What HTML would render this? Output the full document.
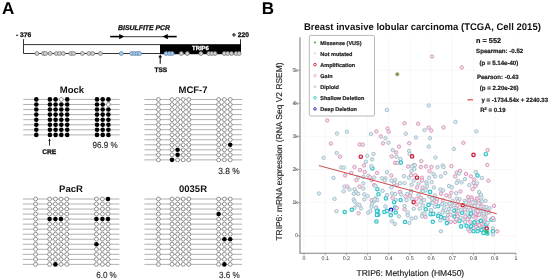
<!DOCTYPE html><html><head><meta charset="utf-8"><style>html,body{margin:0;padding:0;background:#fff;width:550px;height:280px;overflow:hidden}svg{display:block;will-change:transform}text{font-family:"Liberation Sans",sans-serif;text-rendering:geometricPrecision}</style></head><body>
<svg width="550" height="280" viewBox="0 0 550 280">
<rect x="0" y="0" width="550" height="280" fill="#fff"/>
<text x="2.0" y="13.7" font-size="17" font-weight="bold" fill="#000">A</text>
<text x="118" y="29.8" font-size="6.9" font-weight="bold" font-style="italic" fill="#111" stroke="#111" stroke-width="0.28">BISULFITE PCR</text>
<line x1="124" y1="36.6" x2="163.5" y2="36.6" stroke="#666" stroke-width="1.1"/>
<line x1="110.2" y1="36.6" x2="120.5" y2="36.6" stroke="#000" stroke-width="1.6"/>
<path d="M119.2 34.0 L124.5 36.6 L119.2 39.2 Z" fill="#000"/>
<line x1="166.5" y1="36.6" x2="176.7" y2="36.6" stroke="#000" stroke-width="1.6"/>
<path d="M167.8 34.0 L162.5 36.6 L167.8 39.2 Z" fill="#000"/>
<text x="16" y="36.8" font-size="6.7" font-weight="bold" fill="#111" stroke="#111" stroke-width="0.28">- 376</text>
<text x="232" y="36.9" font-size="6.7" font-weight="bold" fill="#111" stroke="#111" stroke-width="0.28">+ 220</text>
<path d="M23.5 39.2 V53.5 H160" fill="none" stroke="#333" stroke-width="1"/>
<line x1="23.5" y1="44.6" x2="160" y2="44.6" stroke="#333" stroke-width="1"/>
<line x1="240.5" y1="39.2" x2="240.5" y2="45" stroke="#333" stroke-width="1"/>
<rect x="160" y="44.2" width="81" height="10" fill="#000"/>
<text x="192.1" y="50.3" font-size="5.9" font-weight="bold" fill="#fff" stroke="#fff" stroke-width="0.28">TRIP6</text>
<circle cx="36.9" cy="53.5" r="2.0" fill="#cfcfcf" stroke="#707070" stroke-width="0.7"/>
<circle cx="43.5" cy="53.5" r="2.0" fill="#cfcfcf" stroke="#707070" stroke-width="0.7"/>
<circle cx="45.5" cy="53.5" r="2.0" fill="#cfcfcf" stroke="#707070" stroke-width="0.7"/>
<circle cx="50.2" cy="53.5" r="2.0" fill="#cfcfcf" stroke="#707070" stroke-width="0.7"/>
<circle cx="56.3" cy="53.5" r="2.0" fill="#cfcfcf" stroke="#707070" stroke-width="0.7"/>
<circle cx="59.5" cy="53.5" r="2.0" fill="#cfcfcf" stroke="#707070" stroke-width="0.7"/>
<circle cx="63.3" cy="53.5" r="2.0" fill="#cfcfcf" stroke="#707070" stroke-width="0.7"/>
<circle cx="70.9" cy="53.5" r="2.0" fill="#cfcfcf" stroke="#707070" stroke-width="0.7"/>
<circle cx="73.6" cy="53.5" r="2.0" fill="#cfcfcf" stroke="#707070" stroke-width="0.7"/>
<circle cx="82.4" cy="53.5" r="2.0" fill="#cfcfcf" stroke="#707070" stroke-width="0.7"/>
<circle cx="88.9" cy="53.5" r="2.0" fill="#cfcfcf" stroke="#707070" stroke-width="0.7"/>
<circle cx="92.7" cy="53.5" r="2.0" fill="#cfcfcf" stroke="#707070" stroke-width="0.7"/>
<circle cx="100.4" cy="53.5" r="2.0" fill="#cfcfcf" stroke="#707070" stroke-width="0.7"/>
<circle cx="181.3" cy="53.5" r="2.0" fill="#cfcfcf" stroke="#707070" stroke-width="0.7"/>
<circle cx="187.3" cy="53.5" r="2.0" fill="#cfcfcf" stroke="#707070" stroke-width="0.7"/>
<circle cx="200.9" cy="53.5" r="2.0" fill="#cfcfcf" stroke="#707070" stroke-width="0.7"/>
<circle cx="208.9" cy="53.5" r="2.0" fill="#cfcfcf" stroke="#707070" stroke-width="0.7"/>
<circle cx="211.9" cy="53.5" r="2.0" fill="#cfcfcf" stroke="#707070" stroke-width="0.7"/>
<circle cx="215.0" cy="53.5" r="2.0" fill="#cfcfcf" stroke="#707070" stroke-width="0.7"/>
<circle cx="224.3" cy="53.5" r="2.0" fill="#cfcfcf" stroke="#707070" stroke-width="0.7"/>
<circle cx="227.6" cy="53.5" r="2.0" fill="#cfcfcf" stroke="#707070" stroke-width="0.7"/>
<circle cx="231.4" cy="53.5" r="2.0" fill="#cfcfcf" stroke="#707070" stroke-width="0.7"/>
<circle cx="236.1" cy="53.5" r="2.0" fill="#cfcfcf" stroke="#707070" stroke-width="0.7"/>
<circle cx="239.1" cy="53.5" r="2.0" fill="#cfcfcf" stroke="#707070" stroke-width="0.7"/>
<circle cx="121.3" cy="53.5" r="2.0" fill="#a9cbea" stroke="#5580a8" stroke-width="0.7"/>
<circle cx="131.8" cy="53.5" r="2.0" fill="#a9cbea" stroke="#5580a8" stroke-width="0.7"/>
<circle cx="134.5" cy="53.5" r="2.0" fill="#a9cbea" stroke="#5580a8" stroke-width="0.7"/>
<circle cx="137.3" cy="53.5" r="2.0" fill="#a9cbea" stroke="#5580a8" stroke-width="0.7"/>
<circle cx="139.5" cy="53.5" r="2.0" fill="#a9cbea" stroke="#5580a8" stroke-width="0.7"/>
<circle cx="166.1" cy="53.5" r="2.0" fill="#a9cbea" stroke="#5580a8" stroke-width="0.7"/>
<circle cx="169.4" cy="53.5" r="2.0" fill="#a9cbea" stroke="#5580a8" stroke-width="0.7"/>
<circle cx="172.1" cy="53.5" r="2.0" fill="#a9cbea" stroke="#5580a8" stroke-width="0.7"/>
<line x1="160.2" y1="57" x2="160.2" y2="63.8" stroke="#000" stroke-width="1"/>
<path d="M158.3 57.6 L160.2 54.6 L162.1 57.6 Z" fill="#000"/>
<text x="154.4" y="71.6" font-size="6.6" font-weight="bold" fill="#111" stroke="#111" stroke-width="0.28">TSS</text>
<text x="72" y="92.8" font-size="9.5" font-weight="bold" fill="#111" text-anchor="middle">Mock</text>
<line x1="23.3" y1="99.40" x2="119.7" y2="99.40" stroke="#a8a8a8" stroke-width="0.9"/>
<line x1="23.3" y1="104.47" x2="119.7" y2="104.47" stroke="#a8a8a8" stroke-width="0.9"/>
<line x1="23.3" y1="109.54" x2="119.7" y2="109.54" stroke="#a8a8a8" stroke-width="0.9"/>
<line x1="23.3" y1="114.61" x2="119.7" y2="114.61" stroke="#a8a8a8" stroke-width="0.9"/>
<line x1="23.3" y1="119.68" x2="119.7" y2="119.68" stroke="#a8a8a8" stroke-width="0.9"/>
<line x1="23.3" y1="124.75" x2="119.7" y2="124.75" stroke="#a8a8a8" stroke-width="0.9"/>
<line x1="23.3" y1="129.82" x2="119.7" y2="129.82" stroke="#a8a8a8" stroke-width="0.9"/>
<line x1="23.3" y1="134.89" x2="119.7" y2="134.89" stroke="#a8a8a8" stroke-width="0.9"/>
<circle cx="36.3" cy="99.40" r="2.3" fill="#000"/>
<circle cx="49.9" cy="99.40" r="2.3" fill="#000"/>
<circle cx="55.6" cy="99.40" r="2.3" fill="#000"/>
<circle cx="61.3" cy="99.40" r="1.95" fill="#fff" stroke="#666" stroke-width="0.7"/>
<circle cx="67.2" cy="99.40" r="2.3" fill="#000"/>
<circle cx="97.0" cy="99.40" r="2.3" fill="#000"/>
<circle cx="102.7" cy="99.40" r="2.3" fill="#000"/>
<circle cx="108.4" cy="99.40" r="2.3" fill="#000"/>
<circle cx="36.3" cy="104.47" r="2.3" fill="#000"/>
<circle cx="49.9" cy="104.47" r="2.3" fill="#000"/>
<circle cx="55.6" cy="104.47" r="2.3" fill="#000"/>
<circle cx="61.3" cy="104.47" r="2.3" fill="#000"/>
<circle cx="67.2" cy="104.47" r="2.3" fill="#000"/>
<circle cx="97.0" cy="104.47" r="2.3" fill="#000"/>
<circle cx="102.7" cy="104.47" r="2.3" fill="#000"/>
<circle cx="108.4" cy="104.47" r="1.95" fill="#fff" stroke="#666" stroke-width="0.7"/>
<circle cx="36.3" cy="109.54" r="2.3" fill="#000"/>
<circle cx="49.9" cy="109.54" r="2.3" fill="#000"/>
<circle cx="55.6" cy="109.54" r="2.3" fill="#000"/>
<circle cx="61.3" cy="109.54" r="2.3" fill="#000"/>
<circle cx="67.2" cy="109.54" r="2.3" fill="#000"/>
<circle cx="97.0" cy="109.54" r="2.3" fill="#000"/>
<circle cx="102.7" cy="109.54" r="2.3" fill="#000"/>
<circle cx="108.4" cy="109.54" r="2.3" fill="#000"/>
<circle cx="36.3" cy="114.61" r="2.3" fill="#000"/>
<circle cx="49.9" cy="114.61" r="2.3" fill="#000"/>
<circle cx="55.6" cy="114.61" r="2.3" fill="#000"/>
<circle cx="61.3" cy="114.61" r="2.3" fill="#000"/>
<circle cx="67.2" cy="114.61" r="2.3" fill="#000"/>
<circle cx="97.0" cy="114.61" r="2.3" fill="#000"/>
<circle cx="102.7" cy="114.61" r="2.3" fill="#000"/>
<circle cx="108.4" cy="114.61" r="2.3" fill="#000"/>
<circle cx="36.3" cy="119.68" r="2.3" fill="#000"/>
<circle cx="49.9" cy="119.68" r="2.3" fill="#000"/>
<circle cx="55.6" cy="119.68" r="2.3" fill="#000"/>
<circle cx="61.3" cy="119.68" r="2.3" fill="#000"/>
<circle cx="67.2" cy="119.68" r="2.3" fill="#000"/>
<circle cx="97.0" cy="119.68" r="2.3" fill="#000"/>
<circle cx="102.7" cy="119.68" r="2.3" fill="#000"/>
<circle cx="108.4" cy="119.68" r="2.3" fill="#000"/>
<circle cx="36.3" cy="124.75" r="2.3" fill="#000"/>
<circle cx="49.9" cy="124.75" r="2.3" fill="#000"/>
<circle cx="55.6" cy="124.75" r="2.3" fill="#000"/>
<circle cx="61.3" cy="124.75" r="2.3" fill="#000"/>
<circle cx="67.2" cy="124.75" r="2.3" fill="#000"/>
<circle cx="97.0" cy="124.75" r="2.3" fill="#000"/>
<circle cx="102.7" cy="124.75" r="2.3" fill="#000"/>
<circle cx="108.4" cy="124.75" r="2.3" fill="#000"/>
<circle cx="36.3" cy="129.82" r="2.3" fill="#000"/>
<circle cx="49.9" cy="129.82" r="2.3" fill="#000"/>
<circle cx="55.6" cy="129.82" r="2.3" fill="#000"/>
<circle cx="61.3" cy="129.82" r="2.3" fill="#000"/>
<circle cx="67.2" cy="129.82" r="2.3" fill="#000"/>
<circle cx="97.0" cy="129.82" r="2.3" fill="#000"/>
<circle cx="102.7" cy="129.82" r="2.3" fill="#000"/>
<circle cx="108.4" cy="129.82" r="2.3" fill="#000"/>
<circle cx="36.3" cy="134.89" r="2.3" fill="#000"/>
<circle cx="49.9" cy="134.89" r="2.3" fill="#000"/>
<circle cx="55.6" cy="134.89" r="2.3" fill="#000"/>
<circle cx="61.3" cy="134.89" r="2.3" fill="#000"/>
<circle cx="67.2" cy="134.89" r="2.3" fill="#000"/>
<circle cx="97.0" cy="134.89" r="2.3" fill="#000"/>
<circle cx="102.7" cy="134.89" r="2.3" fill="#000"/>
<circle cx="108.4" cy="134.89" r="2.3" fill="#000"/>
<text x="193" y="92.5" font-size="9.5" font-weight="bold" fill="#111" text-anchor="middle">MCF-7</text>
<line x1="144.4" y1="99.50" x2="242" y2="99.50" stroke="#a8a8a8" stroke-width="0.9"/>
<line x1="144.4" y1="104.53" x2="242" y2="104.53" stroke="#a8a8a8" stroke-width="0.9"/>
<line x1="144.4" y1="109.56" x2="242" y2="109.56" stroke="#a8a8a8" stroke-width="0.9"/>
<line x1="144.4" y1="114.59" x2="242" y2="114.59" stroke="#a8a8a8" stroke-width="0.9"/>
<line x1="144.4" y1="119.62" x2="242" y2="119.62" stroke="#a8a8a8" stroke-width="0.9"/>
<line x1="144.4" y1="124.65" x2="242" y2="124.65" stroke="#a8a8a8" stroke-width="0.9"/>
<line x1="144.4" y1="129.68" x2="242" y2="129.68" stroke="#a8a8a8" stroke-width="0.9"/>
<line x1="144.4" y1="134.71" x2="242" y2="134.71" stroke="#a8a8a8" stroke-width="0.9"/>
<line x1="144.4" y1="139.74" x2="242" y2="139.74" stroke="#a8a8a8" stroke-width="0.9"/>
<line x1="144.4" y1="144.77" x2="242" y2="144.77" stroke="#a8a8a8" stroke-width="0.9"/>
<line x1="144.4" y1="149.80" x2="242" y2="149.80" stroke="#a8a8a8" stroke-width="0.9"/>
<line x1="144.4" y1="154.83" x2="242" y2="154.83" stroke="#a8a8a8" stroke-width="0.9"/>
<line x1="144.4" y1="159.86" x2="242" y2="159.86" stroke="#a8a8a8" stroke-width="0.9"/>
<circle cx="158.4" cy="99.50" r="1.95" fill="#fff" stroke="#666" stroke-width="0.7"/>
<circle cx="172.0" cy="99.50" r="1.95" fill="#fff" stroke="#666" stroke-width="0.7"/>
<circle cx="177.6" cy="99.50" r="1.95" fill="#fff" stroke="#666" stroke-width="0.7"/>
<circle cx="183.2" cy="99.50" r="1.95" fill="#fff" stroke="#666" stroke-width="0.7"/>
<circle cx="188.8" cy="99.50" r="1.95" fill="#fff" stroke="#666" stroke-width="0.7"/>
<circle cx="218.6" cy="99.50" r="1.95" fill="#fff" stroke="#666" stroke-width="0.7"/>
<circle cx="224.4" cy="99.50" r="1.95" fill="#fff" stroke="#666" stroke-width="0.7"/>
<circle cx="230.2" cy="99.50" r="1.95" fill="#fff" stroke="#666" stroke-width="0.7"/>
<circle cx="158.4" cy="104.53" r="1.95" fill="#fff" stroke="#666" stroke-width="0.7"/>
<circle cx="172.0" cy="104.53" r="1.95" fill="#fff" stroke="#666" stroke-width="0.7"/>
<circle cx="177.6" cy="104.53" r="1.95" fill="#fff" stroke="#666" stroke-width="0.7"/>
<circle cx="183.2" cy="104.53" r="1.95" fill="#fff" stroke="#666" stroke-width="0.7"/>
<circle cx="188.8" cy="104.53" r="1.95" fill="#fff" stroke="#666" stroke-width="0.7"/>
<circle cx="218.6" cy="104.53" r="1.95" fill="#fff" stroke="#666" stroke-width="0.7"/>
<circle cx="224.4" cy="104.53" r="1.95" fill="#fff" stroke="#666" stroke-width="0.7"/>
<circle cx="230.2" cy="104.53" r="1.95" fill="#fff" stroke="#666" stroke-width="0.7"/>
<circle cx="158.4" cy="109.56" r="1.95" fill="#fff" stroke="#666" stroke-width="0.7"/>
<circle cx="172.0" cy="109.56" r="1.95" fill="#fff" stroke="#666" stroke-width="0.7"/>
<circle cx="177.6" cy="109.56" r="1.95" fill="#fff" stroke="#666" stroke-width="0.7"/>
<circle cx="183.2" cy="109.56" r="1.95" fill="#fff" stroke="#666" stroke-width="0.7"/>
<circle cx="188.8" cy="109.56" r="1.95" fill="#fff" stroke="#666" stroke-width="0.7"/>
<circle cx="218.6" cy="109.56" r="1.95" fill="#fff" stroke="#666" stroke-width="0.7"/>
<circle cx="224.4" cy="109.56" r="1.95" fill="#fff" stroke="#666" stroke-width="0.7"/>
<circle cx="230.2" cy="109.56" r="1.95" fill="#fff" stroke="#666" stroke-width="0.7"/>
<circle cx="158.4" cy="114.59" r="1.95" fill="#fff" stroke="#666" stroke-width="0.7"/>
<circle cx="172.0" cy="114.59" r="1.95" fill="#fff" stroke="#666" stroke-width="0.7"/>
<circle cx="177.6" cy="114.59" r="1.95" fill="#fff" stroke="#666" stroke-width="0.7"/>
<circle cx="183.2" cy="114.59" r="1.95" fill="#fff" stroke="#666" stroke-width="0.7"/>
<circle cx="188.8" cy="114.59" r="1.95" fill="#fff" stroke="#666" stroke-width="0.7"/>
<circle cx="218.6" cy="114.59" r="1.95" fill="#fff" stroke="#666" stroke-width="0.7"/>
<circle cx="224.4" cy="114.59" r="1.95" fill="#fff" stroke="#666" stroke-width="0.7"/>
<circle cx="230.2" cy="114.59" r="1.95" fill="#fff" stroke="#666" stroke-width="0.7"/>
<circle cx="158.4" cy="119.62" r="1.95" fill="#fff" stroke="#666" stroke-width="0.7"/>
<circle cx="172.0" cy="119.62" r="1.95" fill="#fff" stroke="#666" stroke-width="0.7"/>
<circle cx="177.6" cy="119.62" r="1.95" fill="#fff" stroke="#666" stroke-width="0.7"/>
<circle cx="183.2" cy="119.62" r="1.95" fill="#fff" stroke="#666" stroke-width="0.7"/>
<circle cx="188.8" cy="119.62" r="1.95" fill="#fff" stroke="#666" stroke-width="0.7"/>
<circle cx="218.6" cy="119.62" r="1.95" fill="#fff" stroke="#666" stroke-width="0.7"/>
<circle cx="224.4" cy="119.62" r="1.95" fill="#fff" stroke="#666" stroke-width="0.7"/>
<circle cx="230.2" cy="119.62" r="1.95" fill="#fff" stroke="#666" stroke-width="0.7"/>
<circle cx="158.4" cy="124.65" r="1.95" fill="#fff" stroke="#666" stroke-width="0.7"/>
<circle cx="172.0" cy="124.65" r="1.95" fill="#fff" stroke="#666" stroke-width="0.7"/>
<circle cx="177.6" cy="124.65" r="1.95" fill="#fff" stroke="#666" stroke-width="0.7"/>
<circle cx="183.2" cy="124.65" r="1.95" fill="#fff" stroke="#666" stroke-width="0.7"/>
<circle cx="188.8" cy="124.65" r="1.95" fill="#fff" stroke="#666" stroke-width="0.7"/>
<circle cx="218.6" cy="124.65" r="1.95" fill="#fff" stroke="#666" stroke-width="0.7"/>
<circle cx="224.4" cy="124.65" r="1.95" fill="#fff" stroke="#666" stroke-width="0.7"/>
<circle cx="230.2" cy="124.65" r="1.95" fill="#fff" stroke="#666" stroke-width="0.7"/>
<circle cx="158.4" cy="129.68" r="1.95" fill="#fff" stroke="#666" stroke-width="0.7"/>
<circle cx="172.0" cy="129.68" r="1.95" fill="#fff" stroke="#666" stroke-width="0.7"/>
<circle cx="177.6" cy="129.68" r="1.95" fill="#fff" stroke="#666" stroke-width="0.7"/>
<circle cx="183.2" cy="129.68" r="1.95" fill="#fff" stroke="#666" stroke-width="0.7"/>
<circle cx="188.8" cy="129.68" r="1.95" fill="#fff" stroke="#666" stroke-width="0.7"/>
<circle cx="218.6" cy="129.68" r="1.95" fill="#fff" stroke="#666" stroke-width="0.7"/>
<circle cx="224.4" cy="129.68" r="1.95" fill="#fff" stroke="#666" stroke-width="0.7"/>
<circle cx="230.2" cy="129.68" r="1.95" fill="#fff" stroke="#666" stroke-width="0.7"/>
<circle cx="158.4" cy="134.71" r="1.95" fill="#fff" stroke="#666" stroke-width="0.7"/>
<circle cx="172.0" cy="134.71" r="1.95" fill="#fff" stroke="#666" stroke-width="0.7"/>
<circle cx="177.6" cy="134.71" r="1.95" fill="#fff" stroke="#666" stroke-width="0.7"/>
<circle cx="183.2" cy="134.71" r="1.95" fill="#fff" stroke="#666" stroke-width="0.7"/>
<circle cx="188.8" cy="134.71" r="1.95" fill="#fff" stroke="#666" stroke-width="0.7"/>
<circle cx="218.6" cy="134.71" r="1.95" fill="#fff" stroke="#666" stroke-width="0.7"/>
<circle cx="224.4" cy="134.71" r="1.95" fill="#fff" stroke="#666" stroke-width="0.7"/>
<circle cx="230.2" cy="134.71" r="1.95" fill="#fff" stroke="#666" stroke-width="0.7"/>
<circle cx="158.4" cy="139.74" r="1.95" fill="#fff" stroke="#666" stroke-width="0.7"/>
<circle cx="172.0" cy="139.74" r="1.95" fill="#fff" stroke="#666" stroke-width="0.7"/>
<circle cx="177.6" cy="139.74" r="1.95" fill="#fff" stroke="#666" stroke-width="0.7"/>
<circle cx="183.2" cy="139.74" r="1.95" fill="#fff" stroke="#666" stroke-width="0.7"/>
<circle cx="188.8" cy="139.74" r="1.95" fill="#fff" stroke="#666" stroke-width="0.7"/>
<circle cx="218.6" cy="139.74" r="1.95" fill="#fff" stroke="#666" stroke-width="0.7"/>
<circle cx="224.4" cy="139.74" r="1.95" fill="#fff" stroke="#666" stroke-width="0.7"/>
<circle cx="230.2" cy="139.74" r="1.95" fill="#fff" stroke="#666" stroke-width="0.7"/>
<circle cx="158.4" cy="144.77" r="1.95" fill="#fff" stroke="#666" stroke-width="0.7"/>
<circle cx="172.0" cy="144.77" r="1.95" fill="#fff" stroke="#666" stroke-width="0.7"/>
<circle cx="177.6" cy="144.77" r="1.95" fill="#fff" stroke="#666" stroke-width="0.7"/>
<circle cx="183.2" cy="144.77" r="1.95" fill="#fff" stroke="#666" stroke-width="0.7"/>
<circle cx="188.8" cy="144.77" r="1.95" fill="#fff" stroke="#666" stroke-width="0.7"/>
<circle cx="218.6" cy="144.77" r="1.95" fill="#fff" stroke="#666" stroke-width="0.7"/>
<circle cx="224.4" cy="144.77" r="1.95" fill="#fff" stroke="#666" stroke-width="0.7"/>
<circle cx="230.2" cy="144.77" r="2.3" fill="#000"/>
<circle cx="158.4" cy="149.80" r="1.95" fill="#fff" stroke="#666" stroke-width="0.7"/>
<circle cx="172.0" cy="149.80" r="1.95" fill="#fff" stroke="#666" stroke-width="0.7"/>
<circle cx="177.6" cy="149.80" r="2.3" fill="#000"/>
<circle cx="183.2" cy="149.80" r="1.95" fill="#fff" stroke="#666" stroke-width="0.7"/>
<circle cx="188.8" cy="149.80" r="1.95" fill="#fff" stroke="#666" stroke-width="0.7"/>
<circle cx="218.6" cy="149.80" r="1.95" fill="#fff" stroke="#666" stroke-width="0.7"/>
<circle cx="224.4" cy="149.80" r="1.95" fill="#fff" stroke="#666" stroke-width="0.7"/>
<circle cx="230.2" cy="149.80" r="1.95" fill="#fff" stroke="#666" stroke-width="0.7"/>
<circle cx="158.4" cy="154.83" r="1.95" fill="#fff" stroke="#666" stroke-width="0.7"/>
<circle cx="172.0" cy="154.83" r="1.95" fill="#fff" stroke="#666" stroke-width="0.7"/>
<circle cx="177.6" cy="154.83" r="2.3" fill="#000"/>
<circle cx="183.2" cy="154.83" r="1.95" fill="#fff" stroke="#666" stroke-width="0.7"/>
<circle cx="188.8" cy="154.83" r="1.95" fill="#fff" stroke="#666" stroke-width="0.7"/>
<circle cx="218.6" cy="154.83" r="1.95" fill="#fff" stroke="#666" stroke-width="0.7"/>
<circle cx="224.4" cy="154.83" r="1.95" fill="#fff" stroke="#666" stroke-width="0.7"/>
<circle cx="230.2" cy="154.83" r="1.95" fill="#fff" stroke="#666" stroke-width="0.7"/>
<circle cx="158.4" cy="159.86" r="1.95" fill="#fff" stroke="#666" stroke-width="0.7"/>
<circle cx="172.0" cy="159.86" r="2.3" fill="#000"/>
<circle cx="177.6" cy="159.86" r="1.95" fill="#fff" stroke="#666" stroke-width="0.7"/>
<circle cx="183.2" cy="159.86" r="1.95" fill="#fff" stroke="#666" stroke-width="0.7"/>
<circle cx="188.8" cy="159.86" r="1.95" fill="#fff" stroke="#666" stroke-width="0.7"/>
<circle cx="218.6" cy="159.86" r="1.95" fill="#fff" stroke="#666" stroke-width="0.7"/>
<circle cx="224.4" cy="159.86" r="1.95" fill="#fff" stroke="#666" stroke-width="0.7"/>
<circle cx="230.2" cy="159.86" r="1.95" fill="#fff" stroke="#666" stroke-width="0.7"/>
<text x="71" y="192.4" font-size="9.5" font-weight="bold" fill="#111" text-anchor="middle">PacR</text>
<line x1="22.8" y1="199.00" x2="119.4" y2="199.00" stroke="#a8a8a8" stroke-width="0.9"/>
<line x1="22.8" y1="204.03" x2="119.4" y2="204.03" stroke="#a8a8a8" stroke-width="0.9"/>
<line x1="22.8" y1="209.06" x2="119.4" y2="209.06" stroke="#a8a8a8" stroke-width="0.9"/>
<line x1="22.8" y1="214.09" x2="119.4" y2="214.09" stroke="#a8a8a8" stroke-width="0.9"/>
<line x1="22.8" y1="219.12" x2="119.4" y2="219.12" stroke="#a8a8a8" stroke-width="0.9"/>
<line x1="22.8" y1="224.15" x2="119.4" y2="224.15" stroke="#a8a8a8" stroke-width="0.9"/>
<line x1="22.8" y1="229.18" x2="119.4" y2="229.18" stroke="#a8a8a8" stroke-width="0.9"/>
<line x1="22.8" y1="234.21" x2="119.4" y2="234.21" stroke="#a8a8a8" stroke-width="0.9"/>
<line x1="22.8" y1="239.24" x2="119.4" y2="239.24" stroke="#a8a8a8" stroke-width="0.9"/>
<line x1="22.8" y1="244.27" x2="119.4" y2="244.27" stroke="#a8a8a8" stroke-width="0.9"/>
<line x1="22.8" y1="249.30" x2="119.4" y2="249.30" stroke="#a8a8a8" stroke-width="0.9"/>
<line x1="22.8" y1="254.33" x2="119.4" y2="254.33" stroke="#a8a8a8" stroke-width="0.9"/>
<line x1="22.8" y1="259.36" x2="119.4" y2="259.36" stroke="#a8a8a8" stroke-width="0.9"/>
<line x1="22.8" y1="264.39" x2="119.4" y2="264.39" stroke="#a8a8a8" stroke-width="0.9"/>
<circle cx="35.6" cy="199.00" r="1.95" fill="#fff" stroke="#666" stroke-width="0.7"/>
<circle cx="49.6" cy="199.00" r="1.95" fill="#fff" stroke="#666" stroke-width="0.7"/>
<circle cx="55.4" cy="199.00" r="1.95" fill="#fff" stroke="#666" stroke-width="0.7"/>
<circle cx="61.0" cy="199.00" r="1.95" fill="#fff" stroke="#666" stroke-width="0.7"/>
<circle cx="66.8" cy="199.00" r="1.95" fill="#fff" stroke="#666" stroke-width="0.7"/>
<circle cx="96.4" cy="199.00" r="1.95" fill="#fff" stroke="#666" stroke-width="0.7"/>
<circle cx="102.4" cy="199.00" r="1.95" fill="#fff" stroke="#666" stroke-width="0.7"/>
<circle cx="108.0" cy="199.00" r="2.3" fill="#000"/>
<circle cx="35.6" cy="204.03" r="1.95" fill="#fff" stroke="#666" stroke-width="0.7"/>
<circle cx="49.6" cy="204.03" r="1.95" fill="#fff" stroke="#666" stroke-width="0.7"/>
<circle cx="55.4" cy="204.03" r="1.95" fill="#fff" stroke="#666" stroke-width="0.7"/>
<circle cx="61.0" cy="204.03" r="1.95" fill="#fff" stroke="#666" stroke-width="0.7"/>
<circle cx="66.8" cy="204.03" r="1.95" fill="#fff" stroke="#666" stroke-width="0.7"/>
<circle cx="96.4" cy="204.03" r="1.95" fill="#fff" stroke="#666" stroke-width="0.7"/>
<circle cx="102.4" cy="204.03" r="1.95" fill="#fff" stroke="#666" stroke-width="0.7"/>
<circle cx="108.0" cy="204.03" r="1.95" fill="#fff" stroke="#666" stroke-width="0.7"/>
<circle cx="35.6" cy="209.06" r="1.95" fill="#fff" stroke="#666" stroke-width="0.7"/>
<circle cx="49.6" cy="209.06" r="1.95" fill="#fff" stroke="#666" stroke-width="0.7"/>
<circle cx="55.4" cy="209.06" r="1.95" fill="#fff" stroke="#666" stroke-width="0.7"/>
<circle cx="61.0" cy="209.06" r="1.95" fill="#fff" stroke="#666" stroke-width="0.7"/>
<circle cx="66.8" cy="209.06" r="1.95" fill="#fff" stroke="#666" stroke-width="0.7"/>
<circle cx="96.4" cy="209.06" r="1.95" fill="#fff" stroke="#666" stroke-width="0.7"/>
<circle cx="102.4" cy="209.06" r="1.95" fill="#fff" stroke="#666" stroke-width="0.7"/>
<circle cx="108.0" cy="209.06" r="1.95" fill="#fff" stroke="#666" stroke-width="0.7"/>
<circle cx="35.6" cy="214.09" r="1.95" fill="#fff" stroke="#666" stroke-width="0.7"/>
<circle cx="49.6" cy="214.09" r="1.95" fill="#fff" stroke="#666" stroke-width="0.7"/>
<circle cx="55.4" cy="214.09" r="1.95" fill="#fff" stroke="#666" stroke-width="0.7"/>
<circle cx="61.0" cy="214.09" r="1.95" fill="#fff" stroke="#666" stroke-width="0.7"/>
<circle cx="66.8" cy="214.09" r="1.95" fill="#fff" stroke="#666" stroke-width="0.7"/>
<circle cx="96.4" cy="214.09" r="1.95" fill="#fff" stroke="#666" stroke-width="0.7"/>
<circle cx="102.4" cy="214.09" r="1.95" fill="#fff" stroke="#666" stroke-width="0.7"/>
<circle cx="108.0" cy="214.09" r="1.95" fill="#fff" stroke="#666" stroke-width="0.7"/>
<circle cx="35.6" cy="219.12" r="1.95" fill="#fff" stroke="#666" stroke-width="0.7"/>
<circle cx="49.6" cy="219.12" r="2.3" fill="#000"/>
<circle cx="55.4" cy="219.12" r="2.3" fill="#000"/>
<circle cx="61.0" cy="219.12" r="2.3" fill="#000"/>
<circle cx="66.8" cy="219.12" r="1.95" fill="#fff" stroke="#666" stroke-width="0.7"/>
<circle cx="96.4" cy="219.12" r="2.3" fill="#000"/>
<circle cx="102.4" cy="219.12" r="2.3" fill="#000"/>
<circle cx="108.0" cy="219.12" r="2.3" fill="#000"/>
<circle cx="35.6" cy="224.15" r="1.95" fill="#fff" stroke="#666" stroke-width="0.7"/>
<circle cx="49.6" cy="224.15" r="1.95" fill="#fff" stroke="#666" stroke-width="0.7"/>
<circle cx="55.4" cy="224.15" r="1.95" fill="#fff" stroke="#666" stroke-width="0.7"/>
<circle cx="61.0" cy="224.15" r="1.95" fill="#fff" stroke="#666" stroke-width="0.7"/>
<circle cx="66.8" cy="224.15" r="1.95" fill="#fff" stroke="#666" stroke-width="0.7"/>
<circle cx="96.4" cy="224.15" r="1.95" fill="#fff" stroke="#666" stroke-width="0.7"/>
<circle cx="102.4" cy="224.15" r="1.95" fill="#fff" stroke="#666" stroke-width="0.7"/>
<circle cx="108.0" cy="224.15" r="1.95" fill="#fff" stroke="#666" stroke-width="0.7"/>
<circle cx="35.6" cy="229.18" r="1.95" fill="#fff" stroke="#666" stroke-width="0.7"/>
<circle cx="49.6" cy="229.18" r="1.95" fill="#fff" stroke="#666" stroke-width="0.7"/>
<circle cx="55.4" cy="229.18" r="1.95" fill="#fff" stroke="#666" stroke-width="0.7"/>
<circle cx="61.0" cy="229.18" r="1.95" fill="#fff" stroke="#666" stroke-width="0.7"/>
<circle cx="66.8" cy="229.18" r="1.95" fill="#fff" stroke="#666" stroke-width="0.7"/>
<circle cx="96.4" cy="229.18" r="1.95" fill="#fff" stroke="#666" stroke-width="0.7"/>
<circle cx="102.4" cy="229.18" r="1.95" fill="#fff" stroke="#666" stroke-width="0.7"/>
<circle cx="108.0" cy="229.18" r="1.95" fill="#fff" stroke="#666" stroke-width="0.7"/>
<circle cx="35.6" cy="234.21" r="1.95" fill="#fff" stroke="#666" stroke-width="0.7"/>
<circle cx="49.6" cy="234.21" r="1.95" fill="#fff" stroke="#666" stroke-width="0.7"/>
<circle cx="55.4" cy="234.21" r="1.95" fill="#fff" stroke="#666" stroke-width="0.7"/>
<circle cx="61.0" cy="234.21" r="1.95" fill="#fff" stroke="#666" stroke-width="0.7"/>
<circle cx="66.8" cy="234.21" r="1.95" fill="#fff" stroke="#666" stroke-width="0.7"/>
<circle cx="96.4" cy="234.21" r="1.95" fill="#fff" stroke="#666" stroke-width="0.7"/>
<circle cx="102.4" cy="234.21" r="1.95" fill="#fff" stroke="#666" stroke-width="0.7"/>
<circle cx="108.0" cy="234.21" r="1.95" fill="#fff" stroke="#666" stroke-width="0.7"/>
<circle cx="35.6" cy="239.24" r="1.95" fill="#fff" stroke="#666" stroke-width="0.7"/>
<circle cx="49.6" cy="239.24" r="1.95" fill="#fff" stroke="#666" stroke-width="0.7"/>
<circle cx="55.4" cy="239.24" r="1.95" fill="#fff" stroke="#666" stroke-width="0.7"/>
<circle cx="61.0" cy="239.24" r="1.95" fill="#fff" stroke="#666" stroke-width="0.7"/>
<circle cx="66.8" cy="239.24" r="1.95" fill="#fff" stroke="#666" stroke-width="0.7"/>
<circle cx="96.4" cy="239.24" r="1.95" fill="#fff" stroke="#666" stroke-width="0.7"/>
<circle cx="102.4" cy="239.24" r="1.95" fill="#fff" stroke="#666" stroke-width="0.7"/>
<circle cx="108.0" cy="239.24" r="1.95" fill="#fff" stroke="#666" stroke-width="0.7"/>
<circle cx="35.6" cy="244.27" r="1.95" fill="#fff" stroke="#666" stroke-width="0.7"/>
<circle cx="49.6" cy="244.27" r="1.95" fill="#fff" stroke="#666" stroke-width="0.7"/>
<circle cx="55.4" cy="244.27" r="1.95" fill="#fff" stroke="#666" stroke-width="0.7"/>
<circle cx="61.0" cy="244.27" r="1.95" fill="#fff" stroke="#666" stroke-width="0.7"/>
<circle cx="66.8" cy="244.27" r="1.95" fill="#fff" stroke="#666" stroke-width="0.7"/>
<circle cx="96.4" cy="244.27" r="2.3" fill="#000"/>
<circle cx="102.4" cy="244.27" r="1.95" fill="#fff" stroke="#666" stroke-width="0.7"/>
<circle cx="108.0" cy="244.27" r="1.95" fill="#fff" stroke="#666" stroke-width="0.7"/>
<circle cx="35.6" cy="249.30" r="1.95" fill="#fff" stroke="#666" stroke-width="0.7"/>
<circle cx="49.6" cy="249.30" r="1.95" fill="#fff" stroke="#666" stroke-width="0.7"/>
<circle cx="55.4" cy="249.30" r="1.95" fill="#fff" stroke="#666" stroke-width="0.7"/>
<circle cx="61.0" cy="249.30" r="1.95" fill="#fff" stroke="#666" stroke-width="0.7"/>
<circle cx="66.8" cy="249.30" r="1.95" fill="#fff" stroke="#666" stroke-width="0.7"/>
<circle cx="96.4" cy="249.30" r="1.95" fill="#fff" stroke="#666" stroke-width="0.7"/>
<circle cx="102.4" cy="249.30" r="1.95" fill="#fff" stroke="#666" stroke-width="0.7"/>
<circle cx="108.0" cy="249.30" r="1.95" fill="#fff" stroke="#666" stroke-width="0.7"/>
<circle cx="35.6" cy="254.33" r="1.95" fill="#fff" stroke="#666" stroke-width="0.7"/>
<circle cx="49.6" cy="254.33" r="1.95" fill="#fff" stroke="#666" stroke-width="0.7"/>
<circle cx="55.4" cy="254.33" r="1.95" fill="#fff" stroke="#666" stroke-width="0.7"/>
<circle cx="61.0" cy="254.33" r="1.95" fill="#fff" stroke="#666" stroke-width="0.7"/>
<circle cx="66.8" cy="254.33" r="1.95" fill="#fff" stroke="#666" stroke-width="0.7"/>
<circle cx="96.4" cy="254.33" r="1.95" fill="#fff" stroke="#666" stroke-width="0.7"/>
<circle cx="102.4" cy="254.33" r="1.95" fill="#fff" stroke="#666" stroke-width="0.7"/>
<circle cx="108.0" cy="254.33" r="1.95" fill="#fff" stroke="#666" stroke-width="0.7"/>
<circle cx="35.6" cy="259.36" r="1.95" fill="#fff" stroke="#666" stroke-width="0.7"/>
<circle cx="49.6" cy="259.36" r="1.95" fill="#fff" stroke="#666" stroke-width="0.7"/>
<circle cx="55.4" cy="259.36" r="1.95" fill="#fff" stroke="#666" stroke-width="0.7"/>
<circle cx="61.0" cy="259.36" r="1.95" fill="#fff" stroke="#666" stroke-width="0.7"/>
<circle cx="66.8" cy="259.36" r="1.95" fill="#fff" stroke="#666" stroke-width="0.7"/>
<circle cx="96.4" cy="259.36" r="1.95" fill="#fff" stroke="#666" stroke-width="0.7"/>
<circle cx="102.4" cy="259.36" r="1.95" fill="#fff" stroke="#666" stroke-width="0.7"/>
<circle cx="108.0" cy="259.36" r="1.95" fill="#fff" stroke="#666" stroke-width="0.7"/>
<circle cx="35.6" cy="264.39" r="1.95" fill="#fff" stroke="#666" stroke-width="0.7"/>
<circle cx="49.6" cy="264.39" r="1.95" fill="#fff" stroke="#666" stroke-width="0.7"/>
<circle cx="55.4" cy="264.39" r="2.3" fill="#000"/>
<circle cx="61.0" cy="264.39" r="1.95" fill="#fff" stroke="#666" stroke-width="0.7"/>
<circle cx="66.8" cy="264.39" r="1.95" fill="#fff" stroke="#666" stroke-width="0.7"/>
<circle cx="96.4" cy="264.39" r="1.95" fill="#fff" stroke="#666" stroke-width="0.7"/>
<circle cx="102.4" cy="264.39" r="1.95" fill="#fff" stroke="#666" stroke-width="0.7"/>
<circle cx="108.0" cy="264.39" r="1.95" fill="#fff" stroke="#666" stroke-width="0.7"/>
<text x="193" y="192.4" font-size="9.5" font-weight="bold" fill="#111" text-anchor="middle">0035R</text>
<line x1="144.4" y1="199.00" x2="242" y2="199.00" stroke="#a8a8a8" stroke-width="0.9"/>
<line x1="144.4" y1="204.03" x2="242" y2="204.03" stroke="#a8a8a8" stroke-width="0.9"/>
<line x1="144.4" y1="209.06" x2="242" y2="209.06" stroke="#a8a8a8" stroke-width="0.9"/>
<line x1="144.4" y1="214.09" x2="242" y2="214.09" stroke="#a8a8a8" stroke-width="0.9"/>
<line x1="144.4" y1="219.12" x2="242" y2="219.12" stroke="#a8a8a8" stroke-width="0.9"/>
<line x1="144.4" y1="224.15" x2="242" y2="224.15" stroke="#a8a8a8" stroke-width="0.9"/>
<line x1="144.4" y1="229.18" x2="242" y2="229.18" stroke="#a8a8a8" stroke-width="0.9"/>
<line x1="144.4" y1="234.21" x2="242" y2="234.21" stroke="#a8a8a8" stroke-width="0.9"/>
<line x1="144.4" y1="239.24" x2="242" y2="239.24" stroke="#a8a8a8" stroke-width="0.9"/>
<line x1="144.4" y1="244.27" x2="242" y2="244.27" stroke="#a8a8a8" stroke-width="0.9"/>
<line x1="144.4" y1="249.30" x2="242" y2="249.30" stroke="#a8a8a8" stroke-width="0.9"/>
<line x1="144.4" y1="254.33" x2="242" y2="254.33" stroke="#a8a8a8" stroke-width="0.9"/>
<line x1="144.4" y1="259.36" x2="242" y2="259.36" stroke="#a8a8a8" stroke-width="0.9"/>
<line x1="144.4" y1="264.39" x2="242" y2="264.39" stroke="#a8a8a8" stroke-width="0.9"/>
<circle cx="158.4" cy="199.00" r="1.95" fill="#fff" stroke="#666" stroke-width="0.7"/>
<circle cx="172.0" cy="199.00" r="1.95" fill="#fff" stroke="#666" stroke-width="0.7"/>
<circle cx="177.6" cy="199.00" r="1.95" fill="#fff" stroke="#666" stroke-width="0.7"/>
<circle cx="183.2" cy="199.00" r="1.95" fill="#fff" stroke="#666" stroke-width="0.7"/>
<circle cx="188.8" cy="199.00" r="1.95" fill="#fff" stroke="#666" stroke-width="0.7"/>
<circle cx="218.6" cy="199.00" r="1.95" fill="#fff" stroke="#666" stroke-width="0.7"/>
<circle cx="224.4" cy="199.00" r="1.95" fill="#fff" stroke="#666" stroke-width="0.7"/>
<circle cx="230.2" cy="199.00" r="1.95" fill="#fff" stroke="#666" stroke-width="0.7"/>
<circle cx="158.4" cy="204.03" r="1.95" fill="#fff" stroke="#666" stroke-width="0.7"/>
<circle cx="172.0" cy="204.03" r="1.95" fill="#fff" stroke="#666" stroke-width="0.7"/>
<circle cx="177.6" cy="204.03" r="1.95" fill="#fff" stroke="#666" stroke-width="0.7"/>
<circle cx="183.2" cy="204.03" r="1.95" fill="#fff" stroke="#666" stroke-width="0.7"/>
<circle cx="188.8" cy="204.03" r="1.95" fill="#fff" stroke="#666" stroke-width="0.7"/>
<circle cx="218.6" cy="204.03" r="1.95" fill="#fff" stroke="#666" stroke-width="0.7"/>
<circle cx="224.4" cy="204.03" r="1.95" fill="#fff" stroke="#666" stroke-width="0.7"/>
<circle cx="230.2" cy="204.03" r="1.95" fill="#fff" stroke="#666" stroke-width="0.7"/>
<circle cx="158.4" cy="209.06" r="1.95" fill="#fff" stroke="#666" stroke-width="0.7"/>
<circle cx="172.0" cy="209.06" r="1.95" fill="#fff" stroke="#666" stroke-width="0.7"/>
<circle cx="177.6" cy="209.06" r="1.95" fill="#fff" stroke="#666" stroke-width="0.7"/>
<circle cx="183.2" cy="209.06" r="1.95" fill="#fff" stroke="#666" stroke-width="0.7"/>
<circle cx="188.8" cy="209.06" r="1.95" fill="#fff" stroke="#666" stroke-width="0.7"/>
<circle cx="218.6" cy="209.06" r="1.95" fill="#fff" stroke="#666" stroke-width="0.7"/>
<circle cx="224.4" cy="209.06" r="1.95" fill="#fff" stroke="#666" stroke-width="0.7"/>
<circle cx="230.2" cy="209.06" r="1.95" fill="#fff" stroke="#666" stroke-width="0.7"/>
<circle cx="158.4" cy="214.09" r="1.95" fill="#fff" stroke="#666" stroke-width="0.7"/>
<circle cx="172.0" cy="214.09" r="1.95" fill="#fff" stroke="#666" stroke-width="0.7"/>
<circle cx="177.6" cy="214.09" r="1.95" fill="#fff" stroke="#666" stroke-width="0.7"/>
<circle cx="183.2" cy="214.09" r="1.95" fill="#fff" stroke="#666" stroke-width="0.7"/>
<circle cx="188.8" cy="214.09" r="1.95" fill="#fff" stroke="#666" stroke-width="0.7"/>
<circle cx="218.6" cy="214.09" r="2.3" fill="#000"/>
<circle cx="224.4" cy="214.09" r="1.95" fill="#fff" stroke="#666" stroke-width="0.7"/>
<circle cx="230.2" cy="214.09" r="1.95" fill="#fff" stroke="#666" stroke-width="0.7"/>
<circle cx="158.4" cy="219.12" r="1.95" fill="#fff" stroke="#666" stroke-width="0.7"/>
<circle cx="172.0" cy="219.12" r="1.95" fill="#fff" stroke="#666" stroke-width="0.7"/>
<circle cx="177.6" cy="219.12" r="1.95" fill="#fff" stroke="#666" stroke-width="0.7"/>
<circle cx="183.2" cy="219.12" r="1.95" fill="#fff" stroke="#666" stroke-width="0.7"/>
<circle cx="188.8" cy="219.12" r="1.95" fill="#fff" stroke="#666" stroke-width="0.7"/>
<circle cx="218.6" cy="219.12" r="1.95" fill="#fff" stroke="#666" stroke-width="0.7"/>
<circle cx="224.4" cy="219.12" r="1.95" fill="#fff" stroke="#666" stroke-width="0.7"/>
<circle cx="230.2" cy="219.12" r="1.95" fill="#fff" stroke="#666" stroke-width="0.7"/>
<circle cx="158.4" cy="224.15" r="1.95" fill="#fff" stroke="#666" stroke-width="0.7"/>
<circle cx="172.0" cy="224.15" r="1.95" fill="#fff" stroke="#666" stroke-width="0.7"/>
<circle cx="177.6" cy="224.15" r="1.95" fill="#fff" stroke="#666" stroke-width="0.7"/>
<circle cx="183.2" cy="224.15" r="1.95" fill="#fff" stroke="#666" stroke-width="0.7"/>
<circle cx="188.8" cy="224.15" r="1.95" fill="#fff" stroke="#666" stroke-width="0.7"/>
<circle cx="218.6" cy="224.15" r="1.95" fill="#fff" stroke="#666" stroke-width="0.7"/>
<circle cx="224.4" cy="224.15" r="1.95" fill="#fff" stroke="#666" stroke-width="0.7"/>
<circle cx="230.2" cy="224.15" r="1.95" fill="#fff" stroke="#666" stroke-width="0.7"/>
<circle cx="158.4" cy="229.18" r="1.95" fill="#fff" stroke="#666" stroke-width="0.7"/>
<circle cx="172.0" cy="229.18" r="1.95" fill="#fff" stroke="#666" stroke-width="0.7"/>
<circle cx="177.6" cy="229.18" r="1.95" fill="#fff" stroke="#666" stroke-width="0.7"/>
<circle cx="183.2" cy="229.18" r="1.95" fill="#fff" stroke="#666" stroke-width="0.7"/>
<circle cx="188.8" cy="229.18" r="1.95" fill="#fff" stroke="#666" stroke-width="0.7"/>
<circle cx="218.6" cy="229.18" r="1.95" fill="#fff" stroke="#666" stroke-width="0.7"/>
<circle cx="224.4" cy="229.18" r="1.95" fill="#fff" stroke="#666" stroke-width="0.7"/>
<circle cx="230.2" cy="229.18" r="1.95" fill="#fff" stroke="#666" stroke-width="0.7"/>
<circle cx="158.4" cy="234.21" r="1.95" fill="#fff" stroke="#666" stroke-width="0.7"/>
<circle cx="172.0" cy="234.21" r="1.95" fill="#fff" stroke="#666" stroke-width="0.7"/>
<circle cx="177.6" cy="234.21" r="1.95" fill="#fff" stroke="#666" stroke-width="0.7"/>
<circle cx="183.2" cy="234.21" r="1.95" fill="#fff" stroke="#666" stroke-width="0.7"/>
<circle cx="188.8" cy="234.21" r="1.95" fill="#fff" stroke="#666" stroke-width="0.7"/>
<circle cx="218.6" cy="234.21" r="1.95" fill="#fff" stroke="#666" stroke-width="0.7"/>
<circle cx="224.4" cy="234.21" r="1.95" fill="#fff" stroke="#666" stroke-width="0.7"/>
<circle cx="230.2" cy="234.21" r="1.95" fill="#fff" stroke="#666" stroke-width="0.7"/>
<circle cx="158.4" cy="239.24" r="1.95" fill="#fff" stroke="#666" stroke-width="0.7"/>
<circle cx="172.0" cy="239.24" r="1.95" fill="#fff" stroke="#666" stroke-width="0.7"/>
<circle cx="177.6" cy="239.24" r="1.95" fill="#fff" stroke="#666" stroke-width="0.7"/>
<circle cx="183.2" cy="239.24" r="1.95" fill="#fff" stroke="#666" stroke-width="0.7"/>
<circle cx="188.8" cy="239.24" r="1.95" fill="#fff" stroke="#666" stroke-width="0.7"/>
<circle cx="218.6" cy="239.24" r="1.95" fill="#fff" stroke="#666" stroke-width="0.7"/>
<circle cx="224.4" cy="239.24" r="2.3" fill="#000"/>
<circle cx="230.2" cy="239.24" r="2.3" fill="#000"/>
<circle cx="158.4" cy="244.27" r="1.95" fill="#fff" stroke="#666" stroke-width="0.7"/>
<circle cx="172.0" cy="244.27" r="1.95" fill="#fff" stroke="#666" stroke-width="0.7"/>
<circle cx="177.6" cy="244.27" r="1.95" fill="#fff" stroke="#666" stroke-width="0.7"/>
<circle cx="183.2" cy="244.27" r="1.95" fill="#fff" stroke="#666" stroke-width="0.7"/>
<circle cx="188.8" cy="244.27" r="1.95" fill="#fff" stroke="#666" stroke-width="0.7"/>
<circle cx="218.6" cy="244.27" r="1.95" fill="#fff" stroke="#666" stroke-width="0.7"/>
<circle cx="224.4" cy="244.27" r="1.95" fill="#fff" stroke="#666" stroke-width="0.7"/>
<circle cx="230.2" cy="244.27" r="1.95" fill="#fff" stroke="#666" stroke-width="0.7"/>
<circle cx="158.4" cy="249.30" r="1.95" fill="#fff" stroke="#666" stroke-width="0.7"/>
<circle cx="172.0" cy="249.30" r="1.95" fill="#fff" stroke="#666" stroke-width="0.7"/>
<circle cx="177.6" cy="249.30" r="1.95" fill="#fff" stroke="#666" stroke-width="0.7"/>
<circle cx="183.2" cy="249.30" r="1.95" fill="#fff" stroke="#666" stroke-width="0.7"/>
<circle cx="188.8" cy="249.30" r="1.95" fill="#fff" stroke="#666" stroke-width="0.7"/>
<circle cx="218.6" cy="249.30" r="1.95" fill="#fff" stroke="#666" stroke-width="0.7"/>
<circle cx="224.4" cy="249.30" r="1.95" fill="#fff" stroke="#666" stroke-width="0.7"/>
<circle cx="230.2" cy="249.30" r="1.95" fill="#fff" stroke="#666" stroke-width="0.7"/>
<circle cx="158.4" cy="254.33" r="1.95" fill="#fff" stroke="#666" stroke-width="0.7"/>
<circle cx="172.0" cy="254.33" r="1.95" fill="#fff" stroke="#666" stroke-width="0.7"/>
<circle cx="177.6" cy="254.33" r="1.95" fill="#fff" stroke="#666" stroke-width="0.7"/>
<circle cx="183.2" cy="254.33" r="1.95" fill="#fff" stroke="#666" stroke-width="0.7"/>
<circle cx="188.8" cy="254.33" r="1.95" fill="#fff" stroke="#666" stroke-width="0.7"/>
<circle cx="218.6" cy="254.33" r="1.95" fill="#fff" stroke="#666" stroke-width="0.7"/>
<circle cx="224.4" cy="254.33" r="1.95" fill="#fff" stroke="#666" stroke-width="0.7"/>
<circle cx="230.2" cy="254.33" r="1.95" fill="#fff" stroke="#666" stroke-width="0.7"/>
<circle cx="158.4" cy="259.36" r="1.95" fill="#fff" stroke="#666" stroke-width="0.7"/>
<circle cx="172.0" cy="259.36" r="1.95" fill="#fff" stroke="#666" stroke-width="0.7"/>
<circle cx="177.6" cy="259.36" r="1.95" fill="#fff" stroke="#666" stroke-width="0.7"/>
<circle cx="183.2" cy="259.36" r="1.95" fill="#fff" stroke="#666" stroke-width="0.7"/>
<circle cx="188.8" cy="259.36" r="1.95" fill="#fff" stroke="#666" stroke-width="0.7"/>
<circle cx="218.6" cy="259.36" r="1.95" fill="#fff" stroke="#666" stroke-width="0.7"/>
<circle cx="224.4" cy="259.36" r="1.95" fill="#fff" stroke="#666" stroke-width="0.7"/>
<circle cx="230.2" cy="259.36" r="1.95" fill="#fff" stroke="#666" stroke-width="0.7"/>
<circle cx="158.4" cy="264.39" r="1.95" fill="#fff" stroke="#666" stroke-width="0.7"/>
<circle cx="172.0" cy="264.39" r="1.95" fill="#fff" stroke="#666" stroke-width="0.7"/>
<circle cx="177.6" cy="264.39" r="1.95" fill="#fff" stroke="#666" stroke-width="0.7"/>
<circle cx="183.2" cy="264.39" r="1.95" fill="#fff" stroke="#666" stroke-width="0.7"/>
<circle cx="188.8" cy="264.39" r="1.95" fill="#fff" stroke="#666" stroke-width="0.7"/>
<circle cx="218.6" cy="264.39" r="1.95" fill="#fff" stroke="#666" stroke-width="0.7"/>
<circle cx="224.4" cy="264.39" r="2.3" fill="#000"/>
<circle cx="230.2" cy="264.39" r="1.95" fill="#fff" stroke="#666" stroke-width="0.7"/>
<line x1="49.5" y1="140" x2="49.5" y2="145.6" stroke="#111" stroke-width="0.9"/>
<path d="M48.3 141.0 L49.5 138.3 L50.7 141.0 Z" fill="#111"/>
<text x="49.2" y="153.5" font-size="6.7" font-weight="bold" fill="#111" stroke="#111" stroke-width="0.28" text-anchor="middle">CRE</text>
<text x="92.6" y="148.1" font-size="8.8" fill="#2a2a2a" stroke="#2a2a2a" stroke-width="0.15" textLength="25.1" lengthAdjust="spacingAndGlyphs">96.9 %</text>
<text x="218.2" y="173.6" font-size="8.8" fill="#2a2a2a" stroke="#2a2a2a" stroke-width="0.15" textLength="21.5" lengthAdjust="spacingAndGlyphs">3.8 %</text>
<text x="96.2" y="277.5" font-size="8.8" fill="#2a2a2a" stroke="#2a2a2a" stroke-width="0.15" textLength="20.6" lengthAdjust="spacingAndGlyphs">6.0 %</text>
<text x="219" y="277.5" font-size="8.8" fill="#2a2a2a" stroke="#2a2a2a" stroke-width="0.15" textLength="20.8" lengthAdjust="spacingAndGlyphs">3.6 %</text>
<text x="261.7" y="13.7" font-size="17" font-weight="bold" fill="#000">B</text>
<text x="303.9" y="29.6" font-size="9.7" font-weight="bold" fill="#111" textLength="237" lengthAdjust="spacingAndGlyphs">Breast invasive lobular carcinoma (TCGA, Cell 2015)</text>
<line x1="304.00" y1="37.5" x2="304.00" y2="253" stroke="#f4f4f4" stroke-width="0.6"/>
<line x1="325.19" y1="37.5" x2="325.19" y2="253" stroke="#f4f4f4" stroke-width="0.6"/>
<line x1="346.38" y1="37.5" x2="346.38" y2="253" stroke="#f4f4f4" stroke-width="0.6"/>
<line x1="367.57" y1="37.5" x2="367.57" y2="253" stroke="#f4f4f4" stroke-width="0.6"/>
<line x1="388.76" y1="37.5" x2="388.76" y2="253" stroke="#f4f4f4" stroke-width="0.6"/>
<line x1="409.95" y1="37.5" x2="409.95" y2="253" stroke="#f4f4f4" stroke-width="0.6"/>
<line x1="431.14" y1="37.5" x2="431.14" y2="253" stroke="#f4f4f4" stroke-width="0.6"/>
<line x1="452.33" y1="37.5" x2="452.33" y2="253" stroke="#f4f4f4" stroke-width="0.6"/>
<line x1="473.52" y1="37.5" x2="473.52" y2="253" stroke="#f4f4f4" stroke-width="0.6"/>
<line x1="494.71" y1="37.5" x2="494.71" y2="253" stroke="#f4f4f4" stroke-width="0.6"/>
<line x1="515.90" y1="37.5" x2="515.90" y2="253" stroke="#f4f4f4" stroke-width="0.6"/>
<line x1="300" y1="235.70" x2="516" y2="235.70" stroke="#f4f4f4" stroke-width="0.6"/>
<line x1="300" y1="202.60" x2="516" y2="202.60" stroke="#f4f4f4" stroke-width="0.6"/>
<line x1="300" y1="169.50" x2="516" y2="169.50" stroke="#f4f4f4" stroke-width="0.6"/>
<line x1="300" y1="136.40" x2="516" y2="136.40" stroke="#f4f4f4" stroke-width="0.6"/>
<line x1="300" y1="103.30" x2="516" y2="103.30" stroke="#f4f4f4" stroke-width="0.6"/>
<line x1="300" y1="70.20" x2="516" y2="70.20" stroke="#f4f4f4" stroke-width="0.6"/>
<line x1="300" y1="37.3" x2="300" y2="253.3" stroke="#808080" stroke-width="1.1"/>
<line x1="299.5" y1="253.3" x2="516" y2="253.3" stroke="#808080" stroke-width="1.1"/>
<line x1="297.5" y1="235.70" x2="300" y2="235.70" stroke="#8c8c8c" stroke-width="0.8"/>
<text x="298.0" y="237.30" font-size="5.3" fill="#333" text-anchor="end">0</text>
<line x1="297.5" y1="202.60" x2="300" y2="202.60" stroke="#8c8c8c" stroke-width="0.8"/>
<text x="298.0" y="204.20" font-size="5.3" fill="#333" text-anchor="end">1k</text>
<line x1="297.5" y1="169.50" x2="300" y2="169.50" stroke="#8c8c8c" stroke-width="0.8"/>
<text x="298.0" y="171.10" font-size="5.3" fill="#333" text-anchor="end">2k</text>
<line x1="297.5" y1="136.40" x2="300" y2="136.40" stroke="#8c8c8c" stroke-width="0.8"/>
<text x="298.0" y="138.00" font-size="5.3" fill="#333" text-anchor="end">3k</text>
<line x1="297.5" y1="103.30" x2="300" y2="103.30" stroke="#8c8c8c" stroke-width="0.8"/>
<text x="298.0" y="104.90" font-size="5.3" fill="#333" text-anchor="end">4k</text>
<line x1="297.5" y1="70.20" x2="300" y2="70.20" stroke="#8c8c8c" stroke-width="0.8"/>
<text x="298.0" y="71.80" font-size="5.3" fill="#333" text-anchor="end">5k</text>
<line x1="304.00" y1="253.3" x2="304.00" y2="255.3" stroke="#8c8c8c" stroke-width="0.8"/>
<text x="304.00" y="260.3" font-size="5.3" fill="#333" text-anchor="middle">0</text>
<line x1="325.19" y1="253.3" x2="325.19" y2="255.3" stroke="#8c8c8c" stroke-width="0.8"/>
<text x="325.19" y="260.3" font-size="5.3" fill="#333" text-anchor="middle">0.1</text>
<line x1="346.38" y1="253.3" x2="346.38" y2="255.3" stroke="#8c8c8c" stroke-width="0.8"/>
<text x="346.38" y="260.3" font-size="5.3" fill="#333" text-anchor="middle">0.2</text>
<line x1="367.57" y1="253.3" x2="367.57" y2="255.3" stroke="#8c8c8c" stroke-width="0.8"/>
<text x="367.57" y="260.3" font-size="5.3" fill="#333" text-anchor="middle">0.3</text>
<line x1="388.76" y1="253.3" x2="388.76" y2="255.3" stroke="#8c8c8c" stroke-width="0.8"/>
<text x="388.76" y="260.3" font-size="5.3" fill="#333" text-anchor="middle">0.4</text>
<line x1="409.95" y1="253.3" x2="409.95" y2="255.3" stroke="#8c8c8c" stroke-width="0.8"/>
<text x="409.95" y="260.3" font-size="5.3" fill="#333" text-anchor="middle">0.5</text>
<line x1="431.14" y1="253.3" x2="431.14" y2="255.3" stroke="#8c8c8c" stroke-width="0.8"/>
<text x="431.14" y="260.3" font-size="5.3" fill="#333" text-anchor="middle">0.6</text>
<line x1="452.33" y1="253.3" x2="452.33" y2="255.3" stroke="#8c8c8c" stroke-width="0.8"/>
<text x="452.33" y="260.3" font-size="5.3" fill="#333" text-anchor="middle">0.7</text>
<line x1="473.52" y1="253.3" x2="473.52" y2="255.3" stroke="#8c8c8c" stroke-width="0.8"/>
<text x="473.52" y="260.3" font-size="5.3" fill="#333" text-anchor="middle">0.8</text>
<line x1="494.71" y1="253.3" x2="494.71" y2="255.3" stroke="#8c8c8c" stroke-width="0.8"/>
<text x="494.71" y="260.3" font-size="5.3" fill="#333" text-anchor="middle">0.9</text>
<line x1="515.90" y1="253.3" x2="515.90" y2="255.3" stroke="#8c8c8c" stroke-width="0.8"/>
<text x="515.90" y="260.3" font-size="5.3" fill="#333" text-anchor="middle">1</text>
<text x="356.5" y="275.8" font-size="8.5" fill="#222" stroke="#222" stroke-width="0.15">TRIP6: Methylation (HM450)</text>
<text transform="translate(282.3,240.6) rotate(-90)" x="0" y="0" font-size="8.45" fill="#222" stroke="#222" stroke-width="0.15">TRIP6: mRNA expression (RNA Seq V2 RSEM)</text>
<circle cx="432.0" cy="56.5" r="1.72" fill="#d4f2f6" stroke="#ea8cb2" stroke-width="0.95"/>
<circle cx="461.8" cy="67.5" r="1.72" fill="#d4f2f6" stroke="#ea8cb2" stroke-width="0.95"/>
<circle cx="397.3" cy="74.3" r="1.72" fill="#30c020" stroke="#e890a8" stroke-width="0.95"/>
<circle cx="386.9" cy="109.9" r="1.72" fill="#daf0f5" stroke="#a8bcc8" stroke-width="0.95"/>
<circle cx="428.7" cy="105.5" r="1.72" fill="#daf0f5" stroke="#a8bcc8" stroke-width="0.95"/>
<circle cx="327.3" cy="120.5" r="1.72" fill="#d4f2f6" stroke="#ea8cb2" stroke-width="0.95"/>
<circle cx="404.5" cy="123.2" r="1.72" fill="#d4f2f6" stroke="#ea8cb2" stroke-width="0.95"/>
<circle cx="418.2" cy="123.7" r="1.72" fill="#d4f2f6" stroke="#ea8cb2" stroke-width="0.95"/>
<circle cx="455.5" cy="121.9" r="1.72" fill="#daf0f5" stroke="#a8bcc8" stroke-width="0.95"/>
<circle cx="336.9" cy="133.5" r="1.72" fill="#daf0f5" stroke="#a8bcc8" stroke-width="0.95"/>
<circle cx="346.9" cy="131.7" r="1.72" fill="#daf0f5" stroke="#a8bcc8" stroke-width="0.95"/>
<circle cx="376.4" cy="131.4" r="1.72" fill="#d4f2f6" stroke="#ea8cb2" stroke-width="0.95"/>
<circle cx="370.9" cy="134.1" r="1.72" fill="#daf0f5" stroke="#a8bcc8" stroke-width="0.95"/>
<circle cx="387.6" cy="128.6" r="1.72" fill="#d4f2f6" stroke="#ea8cb2" stroke-width="0.95"/>
<circle cx="388.7" cy="131.7" r="1.72" fill="#d4f2f6" stroke="#ea8cb2" stroke-width="0.95"/>
<circle cx="424.5" cy="130.1" r="1.72" fill="#daf0f5" stroke="#a8bcc8" stroke-width="0.95"/>
<circle cx="428.7" cy="127.7" r="1.72" fill="#d4f2f6" stroke="#ea8cb2" stroke-width="0.95"/>
<circle cx="431.3" cy="130.5" r="1.72" fill="#d4f2f6" stroke="#ea8cb2" stroke-width="0.95"/>
<circle cx="443.6" cy="127.4" r="1.72" fill="#d4f2f6" stroke="#ea8cb2" stroke-width="0.95"/>
<circle cx="476.4" cy="131.4" r="1.72" fill="#daf0f5" stroke="#a8bcc8" stroke-width="0.95"/>
<circle cx="405.8" cy="133.7" r="1.72" fill="#daf0f5" stroke="#a8bcc8" stroke-width="0.95"/>
<circle cx="330.8" cy="143.6" r="1.72" fill="#d4f2f6" stroke="#ea8cb2" stroke-width="0.95"/>
<circle cx="359.6" cy="144.4" r="1.72" fill="#d4f2f6" stroke="#ea8cb2" stroke-width="0.95"/>
<circle cx="362.8" cy="144.7" r="1.72" fill="#d4f2f6" stroke="#ea8cb2" stroke-width="0.95"/>
<circle cx="336.7" cy="153.0" r="1.72" fill="#daf0f5" stroke="#a8bcc8" stroke-width="0.95"/>
<circle cx="340.0" cy="156.7" r="1.72" fill="#d4f2f6" stroke="#ea8cb2" stroke-width="0.95"/>
<circle cx="323.6" cy="157.8" r="1.72" fill="#daf0f5" stroke="#a8bcc8" stroke-width="0.95"/>
<circle cx="360.8" cy="156.7" r="1.72" fill="#d0f0f0" stroke="#d8142e" stroke-width="1.2"/>
<circle cx="367.3" cy="155.9" r="1.72" fill="#daf0f5" stroke="#a8bcc8" stroke-width="0.95"/>
<circle cx="373.5" cy="153.9" r="1.72" fill="#daf0f5" stroke="#a8bcc8" stroke-width="0.95"/>
<circle cx="372.0" cy="159.3" r="1.72" fill="#daf0f5" stroke="#a8bcc8" stroke-width="0.95"/>
<circle cx="365.9" cy="161.7" r="1.72" fill="#daf0f5" stroke="#a8bcc8" stroke-width="0.95"/>
<circle cx="364.0" cy="165.4" r="1.72" fill="#d4f2f6" stroke="#ea8cb2" stroke-width="0.95"/>
<circle cx="354.5" cy="167.0" r="1.72" fill="#d4f2f6" stroke="#ea8cb2" stroke-width="0.95"/>
<circle cx="341.2" cy="167.4" r="1.72" fill="#daf0f5" stroke="#a8bcc8" stroke-width="0.95"/>
<circle cx="343.8" cy="167.6" r="1.72" fill="#daf0f5" stroke="#a8bcc8" stroke-width="0.95"/>
<circle cx="372.4" cy="168.4" r="1.72" fill="#e6f0f8" stroke="#30c4c8" stroke-width="1.2"/>
<circle cx="380.8" cy="136.4" r="1.72" fill="#d4f2f6" stroke="#ea8cb2" stroke-width="0.95"/>
<circle cx="385.5" cy="138.2" r="1.72" fill="#daf0f5" stroke="#a8bcc8" stroke-width="0.95"/>
<circle cx="416.0" cy="137.5" r="1.72" fill="#daf0f5" stroke="#a8bcc8" stroke-width="0.95"/>
<circle cx="430.0" cy="138.2" r="1.72" fill="#daf0f5" stroke="#a8bcc8" stroke-width="0.95"/>
<circle cx="383.0" cy="143.3" r="1.72" fill="#d4f2f6" stroke="#ea8cb2" stroke-width="0.95"/>
<circle cx="388.4" cy="142.8" r="1.72" fill="#daf0f5" stroke="#a8bcc8" stroke-width="0.95"/>
<circle cx="409.2" cy="143.3" r="1.72" fill="#d4f2f6" stroke="#ea8cb2" stroke-width="0.95"/>
<circle cx="399.0" cy="146.6" r="1.72" fill="#d4f2f6" stroke="#ea8cb2" stroke-width="0.95"/>
<circle cx="428.8" cy="146.6" r="1.72" fill="#daf0f5" stroke="#a8bcc8" stroke-width="0.95"/>
<circle cx="453.8" cy="149.0" r="1.72" fill="#daf0f5" stroke="#a8bcc8" stroke-width="0.95"/>
<circle cx="392.7" cy="150.1" r="1.72" fill="#daf0f5" stroke="#a8bcc8" stroke-width="0.95"/>
<circle cx="396.1" cy="152.4" r="1.72" fill="#d4f2f6" stroke="#ea8cb2" stroke-width="0.95"/>
<circle cx="409.2" cy="151.0" r="1.72" fill="#daf0f5" stroke="#a8bcc8" stroke-width="0.95"/>
<circle cx="409.6" cy="153.9" r="1.72" fill="#daf0f5" stroke="#a8bcc8" stroke-width="0.95"/>
<circle cx="412.1" cy="156.4" r="1.72" fill="#d0f0f0" stroke="#d8142e" stroke-width="1.2"/>
<circle cx="391.7" cy="156.4" r="1.72" fill="#d4f2f6" stroke="#ea8cb2" stroke-width="0.95"/>
<circle cx="396.5" cy="156.7" r="1.72" fill="#daf0f5" stroke="#a8bcc8" stroke-width="0.95"/>
<circle cx="400.5" cy="159.0" r="1.72" fill="#daf0f5" stroke="#a8bcc8" stroke-width="0.95"/>
<circle cx="435.4" cy="157.5" r="1.72" fill="#daf0f5" stroke="#a8bcc8" stroke-width="0.95"/>
<circle cx="421.3" cy="161.2" r="1.72" fill="#d4f2f6" stroke="#ea8cb2" stroke-width="0.95"/>
<circle cx="395.1" cy="162.9" r="1.72" fill="#d4f2f6" stroke="#ea8cb2" stroke-width="0.95"/>
<circle cx="397.5" cy="162.9" r="1.72" fill="#d4f2f6" stroke="#ea8cb2" stroke-width="0.95"/>
<circle cx="400.9" cy="162.6" r="1.72" fill="#e6f0f8" stroke="#30c4c8" stroke-width="1.2"/>
<circle cx="408.2" cy="166.5" r="1.72" fill="#d4f2f6" stroke="#ea8cb2" stroke-width="0.95"/>
<circle cx="414.0" cy="165.1" r="1.72" fill="#d4f2f6" stroke="#ea8cb2" stroke-width="0.95"/>
<circle cx="412.1" cy="166.5" r="1.72" fill="#daf0f5" stroke="#a8bcc8" stroke-width="0.95"/>
<circle cx="420.8" cy="167.0" r="1.72" fill="#d4f2f6" stroke="#ea8cb2" stroke-width="0.95"/>
<circle cx="425.9" cy="166.5" r="1.72" fill="#d4f2f6" stroke="#ea8cb2" stroke-width="0.95"/>
<circle cx="431.4" cy="167.0" r="1.72" fill="#d4f2f6" stroke="#ea8cb2" stroke-width="0.95"/>
<circle cx="437.5" cy="167.0" r="1.72" fill="#daf0f5" stroke="#a8bcc8" stroke-width="0.95"/>
<circle cx="442.6" cy="165.5" r="1.72" fill="#daf0f5" stroke="#a8bcc8" stroke-width="0.95"/>
<circle cx="451.4" cy="166.1" r="1.72" fill="#d4f2f6" stroke="#ea8cb2" stroke-width="0.95"/>
<circle cx="463.3" cy="142.8" r="1.72" fill="#d4f2f6" stroke="#ea8cb2" stroke-width="0.95"/>
<circle cx="487.6" cy="150.1" r="1.72" fill="#d4f2f6" stroke="#ea8cb2" stroke-width="0.95"/>
<circle cx="485.8" cy="154.2" r="1.72" fill="#e6f0f8" stroke="#30c4c8" stroke-width="1.2"/>
<circle cx="473.5" cy="154.9" r="1.72" fill="#d0f0f0" stroke="#d8142e" stroke-width="1.2"/>
<circle cx="371.3" cy="166.2" r="1.72" fill="#daf0f5" stroke="#a8bcc8" stroke-width="0.95"/>
<circle cx="359.9" cy="170.0" r="1.72" fill="#d4f2f6" stroke="#ea8cb2" stroke-width="0.95"/>
<circle cx="364.7" cy="172.0" r="1.72" fill="#d4f2f6" stroke="#ea8cb2" stroke-width="0.95"/>
<circle cx="351.2" cy="172.9" r="1.72" fill="#d4f2f6" stroke="#ea8cb2" stroke-width="0.95"/>
<circle cx="345.1" cy="175.4" r="1.72" fill="#d4f2f6" stroke="#ea8cb2" stroke-width="0.95"/>
<circle cx="377.1" cy="172.9" r="1.72" fill="#d4f2f6" stroke="#ea8cb2" stroke-width="0.95"/>
<circle cx="363.3" cy="176.8" r="1.72" fill="#daf0f5" stroke="#a8bcc8" stroke-width="0.95"/>
<circle cx="368.4" cy="175.8" r="1.72" fill="#daf0f5" stroke="#a8bcc8" stroke-width="0.95"/>
<circle cx="369.8" cy="177.3" r="1.72" fill="#d4f2f6" stroke="#ea8cb2" stroke-width="0.95"/>
<circle cx="374.2" cy="177.5" r="1.72" fill="#daf0f5" stroke="#a8bcc8" stroke-width="0.95"/>
<circle cx="333.5" cy="178.0" r="1.72" fill="#daf0f5" stroke="#a8bcc8" stroke-width="0.95"/>
<circle cx="358.2" cy="177.5" r="1.72" fill="#daf0f5" stroke="#a8bcc8" stroke-width="0.95"/>
<circle cx="356.4" cy="180.2" r="1.72" fill="#d4f2f6" stroke="#ea8cb2" stroke-width="0.95"/>
<circle cx="371.6" cy="180.2" r="1.72" fill="#d4f2f6" stroke="#ea8cb2" stroke-width="0.95"/>
<circle cx="363.3" cy="183.4" r="1.72" fill="#daf0f5" stroke="#a8bcc8" stroke-width="0.95"/>
<circle cx="374.2" cy="185.1" r="1.72" fill="#d4f2f6" stroke="#ea8cb2" stroke-width="0.95"/>
<circle cx="344.4" cy="186.6" r="1.72" fill="#daf0f5" stroke="#a8bcc8" stroke-width="0.95"/>
<circle cx="347.3" cy="186.6" r="1.72" fill="#d4f2f6" stroke="#ea8cb2" stroke-width="0.95"/>
<circle cx="359.6" cy="186.6" r="1.72" fill="#d4f2f6" stroke="#ea8cb2" stroke-width="0.95"/>
<circle cx="349.5" cy="189.5" r="1.72" fill="#daf0f5" stroke="#a8bcc8" stroke-width="0.95"/>
<circle cx="354.5" cy="189.2" r="1.72" fill="#daf0f5" stroke="#a8bcc8" stroke-width="0.95"/>
<circle cx="363.3" cy="188.5" r="1.72" fill="#daf0f5" stroke="#a8bcc8" stroke-width="0.95"/>
<circle cx="377.4" cy="189.2" r="1.72" fill="#e6f0f8" stroke="#30c4c8" stroke-width="1.2"/>
<circle cx="343.6" cy="191.4" r="1.72" fill="#daf0f5" stroke="#a8bcc8" stroke-width="0.95"/>
<circle cx="356.0" cy="192.1" r="1.72" fill="#daf0f5" stroke="#a8bcc8" stroke-width="0.95"/>
<circle cx="318.9" cy="193.5" r="1.72" fill="#daf0f5" stroke="#a8bcc8" stroke-width="0.95"/>
<circle cx="353.8" cy="193.8" r="1.72" fill="#daf0f5" stroke="#a8bcc8" stroke-width="0.95"/>
<circle cx="358.2" cy="193.8" r="1.72" fill="#daf0f5" stroke="#a8bcc8" stroke-width="0.95"/>
<circle cx="364.3" cy="194.3" r="1.72" fill="#daf0f5" stroke="#a8bcc8" stroke-width="0.95"/>
<circle cx="367.6" cy="196.2" r="1.72" fill="#daf0f5" stroke="#a8bcc8" stroke-width="0.95"/>
<circle cx="378.5" cy="194.3" r="1.72" fill="#e6f0f8" stroke="#30c4c8" stroke-width="1.2"/>
<circle cx="334.5" cy="198.9" r="1.72" fill="#daf0f5" stroke="#a8bcc8" stroke-width="0.95"/>
<circle cx="353.8" cy="199.4" r="1.72" fill="#daf0f5" stroke="#a8bcc8" stroke-width="0.95"/>
<circle cx="364.3" cy="199.4" r="1.72" fill="#daf0f5" stroke="#a8bcc8" stroke-width="0.95"/>
<circle cx="371.6" cy="200.1" r="1.72" fill="#d4f2f6" stroke="#ea8cb2" stroke-width="0.95"/>
<circle cx="375.6" cy="198.2" r="1.72" fill="#daf0f5" stroke="#a8bcc8" stroke-width="0.95"/>
<circle cx="374.2" cy="201.1" r="1.72" fill="#daf0f5" stroke="#a8bcc8" stroke-width="0.95"/>
<circle cx="354.5" cy="201.5" r="1.72" fill="#daf0f5" stroke="#a8bcc8" stroke-width="0.95"/>
<circle cx="414.8" cy="165.2" r="1.72" fill="#daf0f5" stroke="#a8bcc8" stroke-width="0.95"/>
<circle cx="414.3" cy="169.0" r="1.72" fill="#daf0f5" stroke="#a8bcc8" stroke-width="0.95"/>
<circle cx="411.5" cy="171.2" r="1.72" fill="#daf0f5" stroke="#a8bcc8" stroke-width="0.95"/>
<circle cx="429.5" cy="171.2" r="1.72" fill="#d4f2f6" stroke="#ea8cb2" stroke-width="0.95"/>
<circle cx="387.0" cy="172.3" r="1.72" fill="#daf0f5" stroke="#a8bcc8" stroke-width="0.95"/>
<circle cx="391.4" cy="175.5" r="1.72" fill="#d4f2f6" stroke="#ea8cb2" stroke-width="0.95"/>
<circle cx="403.9" cy="176.1" r="1.72" fill="#daf0f5" stroke="#a8bcc8" stroke-width="0.95"/>
<circle cx="411.0" cy="175.2" r="1.72" fill="#d4f2f6" stroke="#ea8cb2" stroke-width="0.95"/>
<circle cx="415.4" cy="175.2" r="1.72" fill="#d4f2f6" stroke="#ea8cb2" stroke-width="0.95"/>
<circle cx="408.8" cy="177.7" r="1.72" fill="#daf0f5" stroke="#a8bcc8" stroke-width="0.95"/>
<circle cx="417.0" cy="177.7" r="1.72" fill="#d0f0f0" stroke="#d8142e" stroke-width="1.2"/>
<circle cx="421.9" cy="177.7" r="1.72" fill="#d4f2f6" stroke="#ea8cb2" stroke-width="0.95"/>
<circle cx="429.0" cy="177.7" r="1.72" fill="#daf0f5" stroke="#a8bcc8" stroke-width="0.95"/>
<circle cx="433.4" cy="173.9" r="1.72" fill="#daf0f5" stroke="#a8bcc8" stroke-width="0.95"/>
<circle cx="382.1" cy="178.3" r="1.72" fill="#daf0f5" stroke="#a8bcc8" stroke-width="0.95"/>
<circle cx="385.4" cy="178.3" r="1.72" fill="#daf0f5" stroke="#a8bcc8" stroke-width="0.95"/>
<circle cx="384.8" cy="180.5" r="1.72" fill="#daf0f5" stroke="#a8bcc8" stroke-width="0.95"/>
<circle cx="391.4" cy="180.5" r="1.72" fill="#daf0f5" stroke="#a8bcc8" stroke-width="0.95"/>
<circle cx="395.2" cy="179.9" r="1.72" fill="#daf0f5" stroke="#a8bcc8" stroke-width="0.95"/>
<circle cx="413.7" cy="180.5" r="1.72" fill="#daf0f5" stroke="#a8bcc8" stroke-width="0.95"/>
<circle cx="421.9" cy="180.5" r="1.72" fill="#d4f2f6" stroke="#ea8cb2" stroke-width="0.95"/>
<circle cx="426.3" cy="182.1" r="1.72" fill="#daf0f5" stroke="#a8bcc8" stroke-width="0.95"/>
<circle cx="394.1" cy="183.2" r="1.72" fill="#daf0f5" stroke="#a8bcc8" stroke-width="0.95"/>
<circle cx="400.1" cy="183.2" r="1.72" fill="#daf0f5" stroke="#a8bcc8" stroke-width="0.95"/>
<circle cx="404.5" cy="183.2" r="1.72" fill="#daf0f5" stroke="#a8bcc8" stroke-width="0.95"/>
<circle cx="411.5" cy="184.8" r="1.72" fill="#daf0f5" stroke="#a8bcc8" stroke-width="0.95"/>
<circle cx="418.6" cy="183.7" r="1.72" fill="#daf0f5" stroke="#a8bcc8" stroke-width="0.95"/>
<circle cx="426.8" cy="184.3" r="1.72" fill="#daf0f5" stroke="#a8bcc8" stroke-width="0.95"/>
<circle cx="431.7" cy="182.1" r="1.72" fill="#daf0f5" stroke="#a8bcc8" stroke-width="0.95"/>
<circle cx="396.8" cy="185.4" r="1.72" fill="#d4f2f6" stroke="#ea8cb2" stroke-width="0.95"/>
<circle cx="391.4" cy="187.5" r="1.72" fill="#daf0f5" stroke="#a8bcc8" stroke-width="0.95"/>
<circle cx="417.0" cy="187.5" r="1.72" fill="#d4f2f6" stroke="#ea8cb2" stroke-width="0.95"/>
<circle cx="422.5" cy="187.5" r="1.72" fill="#d4f2f6" stroke="#ea8cb2" stroke-width="0.95"/>
<circle cx="426.8" cy="186.5" r="1.72" fill="#daf0f5" stroke="#a8bcc8" stroke-width="0.95"/>
<circle cx="433.9" cy="187.5" r="1.72" fill="#daf0f5" stroke="#a8bcc8" stroke-width="0.95"/>
<circle cx="382.6" cy="190.8" r="1.72" fill="#daf0f5" stroke="#a8bcc8" stroke-width="0.95"/>
<circle cx="400.1" cy="191.9" r="1.72" fill="#daf0f5" stroke="#a8bcc8" stroke-width="0.95"/>
<circle cx="411.0" cy="190.8" r="1.72" fill="#daf0f5" stroke="#a8bcc8" stroke-width="0.95"/>
<circle cx="421.9" cy="190.8" r="1.72" fill="#daf0f5" stroke="#a8bcc8" stroke-width="0.95"/>
<circle cx="430.1" cy="191.9" r="1.72" fill="#e6f0f8" stroke="#30c4c8" stroke-width="1.2"/>
<circle cx="375.5" cy="185.9" r="1.72" fill="#daf0f5" stroke="#a8bcc8" stroke-width="0.95"/>
<circle cx="443.6" cy="167.1" r="1.72" fill="#daf0f5" stroke="#a8bcc8" stroke-width="0.95"/>
<circle cx="487.3" cy="164.9" r="1.72" fill="#d4f2f6" stroke="#ea8cb2" stroke-width="0.95"/>
<circle cx="434.9" cy="176.4" r="1.72" fill="#daf0f5" stroke="#a8bcc8" stroke-width="0.95"/>
<circle cx="440.9" cy="176.4" r="1.72" fill="#daf0f5" stroke="#a8bcc8" stroke-width="0.95"/>
<circle cx="445.3" cy="173.1" r="1.72" fill="#daf0f5" stroke="#a8bcc8" stroke-width="0.95"/>
<circle cx="456.7" cy="172.5" r="1.72" fill="#d4f2f6" stroke="#ea8cb2" stroke-width="0.95"/>
<circle cx="460.0" cy="170.9" r="1.72" fill="#d4f2f6" stroke="#ea8cb2" stroke-width="0.95"/>
<circle cx="458.9" cy="173.6" r="1.72" fill="#daf0f5" stroke="#a8bcc8" stroke-width="0.95"/>
<circle cx="455.1" cy="176.4" r="1.72" fill="#d4f2f6" stroke="#ea8cb2" stroke-width="0.95"/>
<circle cx="466.0" cy="174.0" r="1.72" fill="#d4f2f6" stroke="#ea8cb2" stroke-width="0.95"/>
<circle cx="475.8" cy="172.0" r="1.72" fill="#daf0f5" stroke="#a8bcc8" stroke-width="0.95"/>
<circle cx="477.5" cy="175.5" r="1.72" fill="#e6f0f8" stroke="#30c4c8" stroke-width="1.2"/>
<circle cx="470.9" cy="176.4" r="1.72" fill="#d4f2f6" stroke="#ea8cb2" stroke-width="0.95"/>
<circle cx="481.8" cy="178.0" r="1.72" fill="#daf0f5" stroke="#a8bcc8" stroke-width="0.95"/>
<circle cx="488.4" cy="180.7" r="1.72" fill="#d4f2f6" stroke="#ea8cb2" stroke-width="0.95"/>
<circle cx="474.2" cy="179.6" r="1.72" fill="#d4f2f6" stroke="#ea8cb2" stroke-width="0.95"/>
<circle cx="464.9" cy="179.1" r="1.72" fill="#daf0f5" stroke="#a8bcc8" stroke-width="0.95"/>
<circle cx="457.8" cy="180.7" r="1.72" fill="#daf0f5" stroke="#a8bcc8" stroke-width="0.95"/>
<circle cx="456.7" cy="182.9" r="1.72" fill="#daf0f5" stroke="#a8bcc8" stroke-width="0.95"/>
<circle cx="461.6" cy="182.4" r="1.72" fill="#daf0f5" stroke="#a8bcc8" stroke-width="0.95"/>
<circle cx="473.6" cy="182.9" r="1.72" fill="#d4f2f6" stroke="#ea8cb2" stroke-width="0.95"/>
<circle cx="476.9" cy="183.5" r="1.72" fill="#daf0f5" stroke="#a8bcc8" stroke-width="0.95"/>
<circle cx="469.3" cy="185.1" r="1.72" fill="#daf0f5" stroke="#a8bcc8" stroke-width="0.95"/>
<circle cx="475.3" cy="186.2" r="1.72" fill="#d4f2f6" stroke="#ea8cb2" stroke-width="0.95"/>
<circle cx="449.1" cy="186.0" r="1.72" fill="#daf0f5" stroke="#a8bcc8" stroke-width="0.95"/>
<circle cx="451.8" cy="187.3" r="1.72" fill="#daf0f5" stroke="#a8bcc8" stroke-width="0.95"/>
<circle cx="472.5" cy="189.2" r="1.72" fill="#d4f2f6" stroke="#ea8cb2" stroke-width="0.95"/>
<circle cx="440.4" cy="189.5" r="1.72" fill="#daf0f5" stroke="#a8bcc8" stroke-width="0.95"/>
<circle cx="377.2" cy="200.0" r="1.72" fill="#daf0f5" stroke="#a8bcc8" stroke-width="0.95"/>
<circle cx="385.9" cy="198.4" r="1.72" fill="#e6f0f8" stroke="#30c4c8" stroke-width="1.2"/>
<circle cx="387.0" cy="195.1" r="1.72" fill="#daf0f5" stroke="#a8bcc8" stroke-width="0.95"/>
<circle cx="391.9" cy="193.5" r="1.72" fill="#daf0f5" stroke="#a8bcc8" stroke-width="0.95"/>
<circle cx="395.2" cy="194.0" r="1.72" fill="#daf0f5" stroke="#a8bcc8" stroke-width="0.95"/>
<circle cx="392.5" cy="197.8" r="1.72" fill="#d4f2f6" stroke="#ea8cb2" stroke-width="0.95"/>
<circle cx="395.7" cy="200.0" r="1.72" fill="#daf0f5" stroke="#a8bcc8" stroke-width="0.95"/>
<circle cx="394.1" cy="202.2" r="1.72" fill="#e6f0f8" stroke="#30c4c8" stroke-width="1.2"/>
<circle cx="400.6" cy="200.0" r="1.72" fill="#e6f0f8" stroke="#30c4c8" stroke-width="1.2"/>
<circle cx="400.1" cy="191.8" r="1.72" fill="#d4f2f6" stroke="#ea8cb2" stroke-width="0.95"/>
<circle cx="401.2" cy="194.5" r="1.72" fill="#daf0f5" stroke="#a8bcc8" stroke-width="0.95"/>
<circle cx="407.2" cy="194.0" r="1.72" fill="#daf0f5" stroke="#a8bcc8" stroke-width="0.95"/>
<circle cx="411.0" cy="192.9" r="1.72" fill="#daf0f5" stroke="#a8bcc8" stroke-width="0.95"/>
<circle cx="405.5" cy="196.7" r="1.72" fill="#d4f2f6" stroke="#ea8cb2" stroke-width="0.95"/>
<circle cx="409.9" cy="196.2" r="1.72" fill="#d4f2f6" stroke="#ea8cb2" stroke-width="0.95"/>
<circle cx="406.6" cy="200.0" r="1.72" fill="#daf0f5" stroke="#a8bcc8" stroke-width="0.95"/>
<circle cx="412.1" cy="198.9" r="1.72" fill="#daf0f5" stroke="#a8bcc8" stroke-width="0.95"/>
<circle cx="416.5" cy="198.9" r="1.72" fill="#d4f2f6" stroke="#ea8cb2" stroke-width="0.95"/>
<circle cx="418.6" cy="195.1" r="1.72" fill="#daf0f5" stroke="#a8bcc8" stroke-width="0.95"/>
<circle cx="420.8" cy="197.8" r="1.72" fill="#d4f2f6" stroke="#ea8cb2" stroke-width="0.95"/>
<circle cx="423.0" cy="191.3" r="1.72" fill="#daf0f5" stroke="#a8bcc8" stroke-width="0.95"/>
<circle cx="425.7" cy="190.2" r="1.72" fill="#daf0f5" stroke="#a8bcc8" stroke-width="0.95"/>
<circle cx="429.5" cy="196.7" r="1.72" fill="#daf0f5" stroke="#a8bcc8" stroke-width="0.95"/>
<circle cx="432.8" cy="198.9" r="1.72" fill="#daf0f5" stroke="#a8bcc8" stroke-width="0.95"/>
<circle cx="424.1" cy="200.0" r="1.72" fill="#daf0f5" stroke="#a8bcc8" stroke-width="0.95"/>
<circle cx="413.7" cy="202.2" r="1.72" fill="#d0f0f0" stroke="#d8142e" stroke-width="1.2"/>
<circle cx="416.5" cy="204.4" r="1.72" fill="#d4f2f6" stroke="#ea8cb2" stroke-width="0.95"/>
<circle cx="420.8" cy="202.2" r="1.72" fill="#daf0f5" stroke="#a8bcc8" stroke-width="0.95"/>
<circle cx="431.7" cy="202.7" r="1.72" fill="#daf0f5" stroke="#a8bcc8" stroke-width="0.95"/>
<circle cx="428.5" cy="204.9" r="1.72" fill="#e6f0f8" stroke="#30c4c8" stroke-width="1.2"/>
<circle cx="423.0" cy="205.5" r="1.72" fill="#daf0f5" stroke="#a8bcc8" stroke-width="0.95"/>
<circle cx="385.4" cy="206.5" r="1.72" fill="#daf0f5" stroke="#a8bcc8" stroke-width="0.95"/>
<circle cx="395.2" cy="207.6" r="1.72" fill="#e6f0f8" stroke="#30c4c8" stroke-width="1.2"/>
<circle cx="396.8" cy="208.2" r="1.72" fill="#d4f2f6" stroke="#ea8cb2" stroke-width="0.95"/>
<circle cx="404.5" cy="206.0" r="1.72" fill="#daf0f5" stroke="#a8bcc8" stroke-width="0.95"/>
<circle cx="404.5" cy="209.3" r="1.72" fill="#d4f2f6" stroke="#ea8cb2" stroke-width="0.95"/>
<circle cx="413.7" cy="208.7" r="1.72" fill="#daf0f5" stroke="#a8bcc8" stroke-width="0.95"/>
<circle cx="419.7" cy="208.7" r="1.72" fill="#daf0f5" stroke="#a8bcc8" stroke-width="0.95"/>
<circle cx="425.7" cy="209.3" r="1.72" fill="#e6f0f8" stroke="#30c4c8" stroke-width="1.2"/>
<circle cx="430.6" cy="210.4" r="1.72" fill="#daf0f5" stroke="#a8bcc8" stroke-width="0.95"/>
<circle cx="376.1" cy="207.6" r="1.72" fill="#daf0f5" stroke="#a8bcc8" stroke-width="0.95"/>
<circle cx="391.1" cy="209.8" r="1.72" fill="#e8e8ff" stroke="#1a1ad0" stroke-width="1.2"/>
<circle cx="387.0" cy="210.9" r="1.72" fill="#e6f0f8" stroke="#30c4c8" stroke-width="1.2"/>
<circle cx="377.7" cy="210.9" r="1.72" fill="#e6f0f8" stroke="#30c4c8" stroke-width="1.2"/>
<circle cx="384.3" cy="212.0" r="1.72" fill="#e6f0f8" stroke="#30c4c8" stroke-width="1.2"/>
<circle cx="390.3" cy="212.5" r="1.72" fill="#daf0f5" stroke="#a8bcc8" stroke-width="0.95"/>
<circle cx="395.7" cy="212.5" r="1.72" fill="#e6f0f8" stroke="#30c4c8" stroke-width="1.2"/>
<circle cx="407.7" cy="212.5" r="1.72" fill="#daf0f5" stroke="#a8bcc8" stroke-width="0.95"/>
<circle cx="378.3" cy="214.7" r="1.72" fill="#e6f0f8" stroke="#30c4c8" stroke-width="1.2"/>
<circle cx="390.8" cy="215.3" r="1.72" fill="#e6f0f8" stroke="#30c4c8" stroke-width="1.2"/>
<circle cx="407.7" cy="215.3" r="1.72" fill="#daf0f5" stroke="#a8bcc8" stroke-width="0.95"/>
<circle cx="422.5" cy="213.6" r="1.72" fill="#daf0f5" stroke="#a8bcc8" stroke-width="0.95"/>
<circle cx="424.6" cy="215.8" r="1.72" fill="#daf0f5" stroke="#a8bcc8" stroke-width="0.95"/>
<circle cx="430.6" cy="214.2" r="1.72" fill="#e6f0f8" stroke="#30c4c8" stroke-width="1.2"/>
<circle cx="399.0" cy="216.4" r="1.72" fill="#daf0f5" stroke="#a8bcc8" stroke-width="0.95"/>
<circle cx="443.1" cy="190.5" r="1.72" fill="#daf0f5" stroke="#a8bcc8" stroke-width="0.95"/>
<circle cx="440.9" cy="193.7" r="1.72" fill="#d4f2f6" stroke="#ea8cb2" stroke-width="0.95"/>
<circle cx="451.3" cy="192.6" r="1.72" fill="#d4f2f6" stroke="#ea8cb2" stroke-width="0.95"/>
<circle cx="456.2" cy="193.2" r="1.72" fill="#daf0f5" stroke="#a8bcc8" stroke-width="0.95"/>
<circle cx="460.5" cy="191.5" r="1.72" fill="#d4f2f6" stroke="#ea8cb2" stroke-width="0.95"/>
<circle cx="479.1" cy="192.1" r="1.72" fill="#daf0f5" stroke="#a8bcc8" stroke-width="0.95"/>
<circle cx="480.2" cy="194.8" r="1.72" fill="#daf0f5" stroke="#a8bcc8" stroke-width="0.95"/>
<circle cx="434.9" cy="195.4" r="1.72" fill="#daf0f5" stroke="#a8bcc8" stroke-width="0.95"/>
<circle cx="446.4" cy="195.4" r="1.72" fill="#d4f2f6" stroke="#ea8cb2" stroke-width="0.95"/>
<circle cx="449.6" cy="196.5" r="1.72" fill="#d4f2f6" stroke="#ea8cb2" stroke-width="0.95"/>
<circle cx="432.2" cy="198.6" r="1.72" fill="#daf0f5" stroke="#a8bcc8" stroke-width="0.95"/>
<circle cx="437.1" cy="199.2" r="1.72" fill="#d4f2f6" stroke="#ea8cb2" stroke-width="0.95"/>
<circle cx="443.1" cy="200.3" r="1.72" fill="#d4f2f6" stroke="#ea8cb2" stroke-width="0.95"/>
<circle cx="456.7" cy="198.6" r="1.72" fill="#daf0f5" stroke="#a8bcc8" stroke-width="0.95"/>
<circle cx="459.5" cy="199.2" r="1.72" fill="#daf0f5" stroke="#a8bcc8" stroke-width="0.95"/>
<circle cx="468.2" cy="197.0" r="1.72" fill="#d4f2f6" stroke="#ea8cb2" stroke-width="0.95"/>
<circle cx="471.5" cy="197.5" r="1.72" fill="#d4f2f6" stroke="#ea8cb2" stroke-width="0.95"/>
<circle cx="476.9" cy="198.6" r="1.72" fill="#d4f2f6" stroke="#ea8cb2" stroke-width="0.95"/>
<circle cx="485.6" cy="200.8" r="1.72" fill="#daf0f5" stroke="#a8bcc8" stroke-width="0.95"/>
<circle cx="464.9" cy="200.8" r="1.72" fill="#daf0f5" stroke="#a8bcc8" stroke-width="0.95"/>
<circle cx="469.3" cy="200.3" r="1.72" fill="#d4f2f6" stroke="#ea8cb2" stroke-width="0.95"/>
<circle cx="472.5" cy="200.3" r="1.72" fill="#d4f2f6" stroke="#ea8cb2" stroke-width="0.95"/>
<circle cx="478.5" cy="200.8" r="1.72" fill="#d4f2f6" stroke="#ea8cb2" stroke-width="0.95"/>
<circle cx="432.7" cy="203.0" r="1.72" fill="#daf0f5" stroke="#a8bcc8" stroke-width="0.95"/>
<circle cx="436.5" cy="201.9" r="1.72" fill="#d4f2f6" stroke="#ea8cb2" stroke-width="0.95"/>
<circle cx="462.7" cy="205.2" r="1.72" fill="#d0f0f0" stroke="#d8142e" stroke-width="1.2"/>
<circle cx="446.4" cy="204.1" r="1.72" fill="#daf0f5" stroke="#a8bcc8" stroke-width="0.95"/>
<circle cx="451.8" cy="203.0" r="1.72" fill="#daf0f5" stroke="#a8bcc8" stroke-width="0.95"/>
<circle cx="450.7" cy="205.7" r="1.72" fill="#d4f2f6" stroke="#ea8cb2" stroke-width="0.95"/>
<circle cx="468.2" cy="204.1" r="1.72" fill="#d4f2f6" stroke="#ea8cb2" stroke-width="0.95"/>
<circle cx="475.8" cy="202.5" r="1.72" fill="#daf0f5" stroke="#a8bcc8" stroke-width="0.95"/>
<circle cx="480.2" cy="203.5" r="1.72" fill="#d4f2f6" stroke="#ea8cb2" stroke-width="0.95"/>
<circle cx="481.3" cy="206.8" r="1.72" fill="#daf0f5" stroke="#a8bcc8" stroke-width="0.95"/>
<circle cx="485.6" cy="207.9" r="1.72" fill="#daf0f5" stroke="#a8bcc8" stroke-width="0.95"/>
<circle cx="438.2" cy="206.3" r="1.72" fill="#e6f0f8" stroke="#30c4c8" stroke-width="1.2"/>
<circle cx="434.9" cy="206.8" r="1.72" fill="#daf0f5" stroke="#a8bcc8" stroke-width="0.95"/>
<circle cx="444.2" cy="207.9" r="1.72" fill="#daf0f5" stroke="#a8bcc8" stroke-width="0.95"/>
<circle cx="456.2" cy="207.4" r="1.72" fill="#daf0f5" stroke="#a8bcc8" stroke-width="0.95"/>
<circle cx="466.0" cy="207.9" r="1.72" fill="#daf0f5" stroke="#a8bcc8" stroke-width="0.95"/>
<circle cx="471.5" cy="206.3" r="1.72" fill="#d4f2f6" stroke="#ea8cb2" stroke-width="0.95"/>
<circle cx="431.1" cy="210.1" r="1.72" fill="#daf0f5" stroke="#a8bcc8" stroke-width="0.95"/>
<circle cx="443.1" cy="210.6" r="1.72" fill="#daf0f5" stroke="#a8bcc8" stroke-width="0.95"/>
<circle cx="454.0" cy="210.6" r="1.72" fill="#e6f0f8" stroke="#30c4c8" stroke-width="1.2"/>
<circle cx="458.4" cy="210.1" r="1.72" fill="#daf0f5" stroke="#a8bcc8" stroke-width="0.95"/>
<circle cx="447.5" cy="212.3" r="1.72" fill="#daf0f5" stroke="#a8bcc8" stroke-width="0.95"/>
<circle cx="462.2" cy="212.8" r="1.72" fill="#e6f0f8" stroke="#30c4c8" stroke-width="1.2"/>
<circle cx="467.1" cy="210.1" r="1.72" fill="#daf0f5" stroke="#a8bcc8" stroke-width="0.95"/>
<circle cx="470.9" cy="212.8" r="1.72" fill="#e6f0f8" stroke="#30c4c8" stroke-width="1.2"/>
<circle cx="475.8" cy="210.6" r="1.72" fill="#daf0f5" stroke="#a8bcc8" stroke-width="0.95"/>
<circle cx="481.3" cy="211.2" r="1.72" fill="#daf0f5" stroke="#a8bcc8" stroke-width="0.95"/>
<circle cx="484.5" cy="209.5" r="1.72" fill="#d4f2f6" stroke="#ea8cb2" stroke-width="0.95"/>
<circle cx="486.7" cy="213.4" r="1.72" fill="#daf0f5" stroke="#a8bcc8" stroke-width="0.95"/>
<circle cx="433.3" cy="213.9" r="1.72" fill="#e6f0f8" stroke="#30c4c8" stroke-width="1.2"/>
<circle cx="438.7" cy="213.9" r="1.72" fill="#daf0f5" stroke="#a8bcc8" stroke-width="0.95"/>
<circle cx="456.7" cy="213.9" r="1.72" fill="#daf0f5" stroke="#a8bcc8" stroke-width="0.95"/>
<circle cx="475.8" cy="213.9" r="1.72" fill="#daf0f5" stroke="#a8bcc8" stroke-width="0.95"/>
<circle cx="480.9" cy="194.7" r="1.72" fill="#daf0f5" stroke="#a8bcc8" stroke-width="0.95"/>
<circle cx="481.5" cy="197.5" r="1.72" fill="#daf0f5" stroke="#a8bcc8" stroke-width="0.95"/>
<circle cx="477.1" cy="198.5" r="1.72" fill="#d4f2f6" stroke="#ea8cb2" stroke-width="0.95"/>
<circle cx="471.6" cy="199.6" r="1.72" fill="#d4f2f6" stroke="#ea8cb2" stroke-width="0.95"/>
<circle cx="478.7" cy="203.5" r="1.72" fill="#d4f2f6" stroke="#ea8cb2" stroke-width="0.95"/>
<circle cx="474.9" cy="202.9" r="1.72" fill="#daf0f5" stroke="#a8bcc8" stroke-width="0.95"/>
<circle cx="494.0" cy="205.9" r="1.72" fill="#d4f2f6" stroke="#ea8cb2" stroke-width="0.95"/>
<circle cx="485.3" cy="207.3" r="1.72" fill="#daf0f5" stroke="#a8bcc8" stroke-width="0.95"/>
<circle cx="489.1" cy="208.6" r="1.72" fill="#daf0f5" stroke="#a8bcc8" stroke-width="0.95"/>
<circle cx="483.6" cy="206.7" r="1.72" fill="#d4f2f6" stroke="#ea8cb2" stroke-width="0.95"/>
<circle cx="374.7" cy="199.6" r="1.72" fill="#daf0f5" stroke="#a8bcc8" stroke-width="0.95"/>
<circle cx="357.3" cy="204.5" r="1.72" fill="#daf0f5" stroke="#a8bcc8" stroke-width="0.95"/>
<circle cx="359.5" cy="205.1" r="1.72" fill="#daf0f5" stroke="#a8bcc8" stroke-width="0.95"/>
<circle cx="354.5" cy="207.8" r="1.72" fill="#daf0f5" stroke="#a8bcc8" stroke-width="0.95"/>
<circle cx="361.1" cy="208.4" r="1.72" fill="#daf0f5" stroke="#a8bcc8" stroke-width="0.95"/>
<circle cx="372.0" cy="204.0" r="1.72" fill="#daf0f5" stroke="#a8bcc8" stroke-width="0.95"/>
<circle cx="371.5" cy="206.7" r="1.72" fill="#daf0f5" stroke="#a8bcc8" stroke-width="0.95"/>
<circle cx="375.8" cy="207.8" r="1.72" fill="#daf0f5" stroke="#a8bcc8" stroke-width="0.95"/>
<circle cx="336.5" cy="211.3" r="1.72" fill="#daf0f5" stroke="#a8bcc8" stroke-width="0.95"/>
<circle cx="344.7" cy="212.0" r="1.72" fill="#e6f0f8" stroke="#30c4c8" stroke-width="1.2"/>
<circle cx="351.8" cy="209.8" r="1.72" fill="#e6f0f8" stroke="#30c4c8" stroke-width="1.2"/>
<circle cx="358.6" cy="213.3" r="1.72" fill="#d4f2f6" stroke="#ea8cb2" stroke-width="0.95"/>
<circle cx="368.2" cy="212.7" r="1.72" fill="#daf0f5" stroke="#a8bcc8" stroke-width="0.95"/>
<circle cx="370.4" cy="211.1" r="1.72" fill="#daf0f5" stroke="#a8bcc8" stroke-width="0.95"/>
<circle cx="376.9" cy="211.1" r="1.72" fill="#e6f0f8" stroke="#30c4c8" stroke-width="1.2"/>
<circle cx="376.9" cy="214.9" r="1.72" fill="#e6f0f8" stroke="#30c4c8" stroke-width="1.2"/>
<circle cx="376.4" cy="221.5" r="1.72" fill="#e6f0f8" stroke="#30c4c8" stroke-width="1.2"/>
<circle cx="411.5" cy="218.5" r="1.72" fill="#daf0f5" stroke="#a8bcc8" stroke-width="0.95"/>
<circle cx="415.6" cy="217.7" r="1.72" fill="#daf0f5" stroke="#a8bcc8" stroke-width="0.95"/>
<circle cx="421.9" cy="216.4" r="1.72" fill="#daf0f5" stroke="#a8bcc8" stroke-width="0.95"/>
<circle cx="425.4" cy="216.9" r="1.72" fill="#d4f2f6" stroke="#ea8cb2" stroke-width="0.95"/>
<circle cx="424.6" cy="213.6" r="1.72" fill="#daf0f5" stroke="#a8bcc8" stroke-width="0.95"/>
<circle cx="391.9" cy="221.3" r="1.72" fill="#daf0f5" stroke="#a8bcc8" stroke-width="0.95"/>
<circle cx="394.9" cy="224.0" r="1.72" fill="#daf0f5" stroke="#a8bcc8" stroke-width="0.95"/>
<circle cx="405.0" cy="222.0" r="1.72" fill="#e6f0f8" stroke="#30c4c8" stroke-width="1.2"/>
<circle cx="409.4" cy="222.9" r="1.72" fill="#daf0f5" stroke="#a8bcc8" stroke-width="0.95"/>
<circle cx="432.8" cy="221.8" r="1.72" fill="#e6f0f8" stroke="#30c4c8" stroke-width="1.2"/>
<circle cx="442.5" cy="212.7" r="1.72" fill="#daf0f5" stroke="#a8bcc8" stroke-width="0.95"/>
<circle cx="447.5" cy="212.2" r="1.72" fill="#daf0f5" stroke="#a8bcc8" stroke-width="0.95"/>
<circle cx="458.4" cy="211.1" r="1.72" fill="#daf0f5" stroke="#a8bcc8" stroke-width="0.95"/>
<circle cx="483.5" cy="213.3" r="1.72" fill="#daf0f5" stroke="#a8bcc8" stroke-width="0.95"/>
<circle cx="438.2" cy="216.0" r="1.72" fill="#e6f0f8" stroke="#30c4c8" stroke-width="1.2"/>
<circle cx="440.9" cy="217.1" r="1.72" fill="#e6f0f8" stroke="#30c4c8" stroke-width="1.2"/>
<circle cx="448.0" cy="214.9" r="1.72" fill="#daf0f5" stroke="#a8bcc8" stroke-width="0.95"/>
<circle cx="457.3" cy="214.4" r="1.72" fill="#d4f2f6" stroke="#ea8cb2" stroke-width="0.95"/>
<circle cx="454.5" cy="216.5" r="1.72" fill="#e6f0f8" stroke="#30c4c8" stroke-width="1.2"/>
<circle cx="457.8" cy="216.5" r="1.72" fill="#d4f2f6" stroke="#ea8cb2" stroke-width="0.95"/>
<circle cx="469.3" cy="217.1" r="1.72" fill="#e6f0f8" stroke="#30c4c8" stroke-width="1.2"/>
<circle cx="473.6" cy="215.5" r="1.72" fill="#d4f2f6" stroke="#ea8cb2" stroke-width="0.95"/>
<circle cx="478.0" cy="214.9" r="1.72" fill="#d4f2f6" stroke="#ea8cb2" stroke-width="0.95"/>
<circle cx="483.5" cy="216.0" r="1.72" fill="#daf0f5" stroke="#a8bcc8" stroke-width="0.95"/>
<circle cx="444.7" cy="218.2" r="1.72" fill="#e6f0f8" stroke="#30c4c8" stroke-width="1.2"/>
<circle cx="447.5" cy="218.7" r="1.72" fill="#d4f2f6" stroke="#ea8cb2" stroke-width="0.95"/>
<circle cx="440.4" cy="220.4" r="1.72" fill="#daf0f5" stroke="#a8bcc8" stroke-width="0.95"/>
<circle cx="462.7" cy="219.3" r="1.72" fill="#daf0f5" stroke="#a8bcc8" stroke-width="0.95"/>
<circle cx="467.6" cy="219.3" r="1.72" fill="#d4f2f6" stroke="#ea8cb2" stroke-width="0.95"/>
<circle cx="450.7" cy="222.0" r="1.72" fill="#d4f2f6" stroke="#ea8cb2" stroke-width="0.95"/>
<circle cx="455.1" cy="221.8" r="1.72" fill="#d4f2f6" stroke="#ea8cb2" stroke-width="0.95"/>
<circle cx="459.5" cy="220.9" r="1.72" fill="#e6f0f8" stroke="#30c4c8" stroke-width="1.2"/>
<circle cx="464.9" cy="222.0" r="1.72" fill="#daf0f5" stroke="#a8bcc8" stroke-width="0.95"/>
<circle cx="470.4" cy="222.0" r="1.72" fill="#d4f2f6" stroke="#ea8cb2" stroke-width="0.95"/>
<circle cx="474.2" cy="222.5" r="1.72" fill="#e6f0f8" stroke="#30c4c8" stroke-width="1.2"/>
<circle cx="478.0" cy="222.0" r="1.72" fill="#d4f2f6" stroke="#ea8cb2" stroke-width="0.95"/>
<circle cx="480.7" cy="220.9" r="1.72" fill="#e6f0f8" stroke="#30c4c8" stroke-width="1.2"/>
<circle cx="485.1" cy="221.5" r="1.72" fill="#daf0f5" stroke="#a8bcc8" stroke-width="0.95"/>
<circle cx="446.9" cy="223.1" r="1.72" fill="#e6f0f8" stroke="#30c4c8" stroke-width="1.2"/>
<circle cx="475.3" cy="224.7" r="1.72" fill="#d4f2f6" stroke="#ea8cb2" stroke-width="0.95"/>
<circle cx="479.1" cy="224.7" r="1.72" fill="#d4f2f6" stroke="#ea8cb2" stroke-width="0.95"/>
<circle cx="483.5" cy="224.7" r="1.72" fill="#d4f2f6" stroke="#ea8cb2" stroke-width="0.95"/>
<circle cx="461.1" cy="226.4" r="1.72" fill="#e6f0f8" stroke="#30c4c8" stroke-width="1.2"/>
<circle cx="466.5" cy="225.8" r="1.72" fill="#e6f0f8" stroke="#30c4c8" stroke-width="1.2"/>
<circle cx="470.9" cy="226.9" r="1.72" fill="#e6f0f8" stroke="#30c4c8" stroke-width="1.2"/>
<circle cx="475.8" cy="226.9" r="1.72" fill="#d4f2f6" stroke="#ea8cb2" stroke-width="0.95"/>
<circle cx="480.2" cy="226.4" r="1.72" fill="#daf0f5" stroke="#a8bcc8" stroke-width="0.95"/>
<circle cx="484.5" cy="226.4" r="1.72" fill="#d4f2f6" stroke="#ea8cb2" stroke-width="0.95"/>
<circle cx="468.2" cy="229.6" r="1.72" fill="#daf0f5" stroke="#a8bcc8" stroke-width="0.95"/>
<circle cx="473.6" cy="228.0" r="1.72" fill="#d4f2f6" stroke="#ea8cb2" stroke-width="0.95"/>
<circle cx="478.0" cy="229.1" r="1.72" fill="#daf0f5" stroke="#a8bcc8" stroke-width="0.95"/>
<circle cx="484.0" cy="229.1" r="1.72" fill="#e6f0f8" stroke="#30c4c8" stroke-width="1.2"/>
<circle cx="469.8" cy="231.3" r="1.72" fill="#d4f2f6" stroke="#ea8cb2" stroke-width="0.95"/>
<circle cx="473.6" cy="231.3" r="1.72" fill="#e6f0f8" stroke="#30c4c8" stroke-width="1.2"/>
<circle cx="477.5" cy="231.3" r="1.72" fill="#e6f0f8" stroke="#30c4c8" stroke-width="1.2"/>
<circle cx="483.5" cy="232.9" r="1.72" fill="#e6f0f8" stroke="#30c4c8" stroke-width="1.2"/>
<circle cx="487.3" cy="233.5" r="1.72" fill="#e6f0f8" stroke="#30c4c8" stroke-width="1.2"/>
<circle cx="440.9" cy="231.3" r="1.72" fill="#daf0f5" stroke="#a8bcc8" stroke-width="0.95"/>
<circle cx="488.9" cy="212.2" r="1.72" fill="#d4f2f6" stroke="#ea8cb2" stroke-width="0.95"/>
<circle cx="486.4" cy="207.2" r="1.72" fill="#daf0f5" stroke="#a8bcc8" stroke-width="0.95"/>
<circle cx="489.6" cy="208.3" r="1.72" fill="#daf0f5" stroke="#a8bcc8" stroke-width="0.95"/>
<circle cx="483.1" cy="211.5" r="1.72" fill="#daf0f5" stroke="#a8bcc8" stroke-width="0.95"/>
<circle cx="483.6" cy="213.7" r="1.72" fill="#daf0f5" stroke="#a8bcc8" stroke-width="0.95"/>
<circle cx="479.3" cy="214.8" r="1.72" fill="#d4f2f6" stroke="#ea8cb2" stroke-width="0.95"/>
<circle cx="483.6" cy="216.5" r="1.72" fill="#daf0f5" stroke="#a8bcc8" stroke-width="0.95"/>
<circle cx="471.1" cy="213.7" r="1.72" fill="#e6f0f8" stroke="#30c4c8" stroke-width="1.2"/>
<circle cx="473.3" cy="216.5" r="1.72" fill="#d4f2f6" stroke="#ea8cb2" stroke-width="0.95"/>
<circle cx="491.3" cy="219.7" r="1.72" fill="#e6f0f8" stroke="#30c4c8" stroke-width="1.2"/>
<circle cx="494.0" cy="219.7" r="1.72" fill="#daf0f5" stroke="#a8bcc8" stroke-width="0.95"/>
<circle cx="480.9" cy="220.8" r="1.72" fill="#e6f0f8" stroke="#30c4c8" stroke-width="1.2"/>
<circle cx="474.4" cy="222.5" r="1.72" fill="#e6f0f8" stroke="#30c4c8" stroke-width="1.2"/>
<circle cx="485.3" cy="221.9" r="1.72" fill="#d4f2f6" stroke="#ea8cb2" stroke-width="0.95"/>
<circle cx="479.3" cy="225.2" r="1.72" fill="#d4f2f6" stroke="#ea8cb2" stroke-width="0.95"/>
<circle cx="486.4" cy="224.6" r="1.72" fill="#e6f0f8" stroke="#30c4c8" stroke-width="1.2"/>
<circle cx="471.1" cy="226.3" r="1.72" fill="#e6f0f8" stroke="#30c4c8" stroke-width="1.2"/>
<circle cx="486.7" cy="228.5" r="1.72" fill="#d0f0f0" stroke="#d8142e" stroke-width="1.2"/>
<circle cx="492.9" cy="228.5" r="1.72" fill="#daf0f5" stroke="#a8bcc8" stroke-width="0.95"/>
<circle cx="492.9" cy="231.2" r="1.72" fill="#e6f0f8" stroke="#30c4c8" stroke-width="1.2"/>
<circle cx="497.3" cy="231.3" r="1.72" fill="#d4f2f6" stroke="#ea8cb2" stroke-width="0.95"/>
<circle cx="481.5" cy="230.1" r="1.72" fill="#e6f0f8" stroke="#30c4c8" stroke-width="1.2"/>
<circle cx="493.1" cy="234.5" r="1.72" fill="#daf0f5" stroke="#a8bcc8" stroke-width="0.95"/>
<circle cx="486.9" cy="231.9" r="1.72" fill="#30c020" stroke="#2ec6bf" stroke-width="0.95"/>
<circle cx="452.5" cy="200.9" r="1.72" fill="#daf0f5" stroke="#a8bcc8" stroke-width="0.95"/>
<circle cx="457.9" cy="201.3" r="1.72" fill="#d4f2f6" stroke="#ea8cb2" stroke-width="0.95"/>
<circle cx="482.0" cy="201.3" r="1.72" fill="#daf0f5" stroke="#a8bcc8" stroke-width="0.95"/>
<circle cx="442.2" cy="204.0" r="1.72" fill="#daf0f5" stroke="#a8bcc8" stroke-width="0.95"/>
<circle cx="449.8" cy="203.6" r="1.72" fill="#daf0f5" stroke="#a8bcc8" stroke-width="0.95"/>
<circle cx="474.8" cy="206.2" r="1.72" fill="#daf0f5" stroke="#a8bcc8" stroke-width="0.95"/>
<circle cx="448.9" cy="208.9" r="1.72" fill="#daf0f5" stroke="#a8bcc8" stroke-width="0.95"/>
<circle cx="461.0" cy="209.8" r="1.72" fill="#daf0f5" stroke="#a8bcc8" stroke-width="0.95"/>
<circle cx="470.4" cy="209.8" r="1.72" fill="#daf0f5" stroke="#a8bcc8" stroke-width="0.95"/>
<circle cx="473.5" cy="208.9" r="1.72" fill="#d4f2f6" stroke="#ea8cb2" stroke-width="0.95"/>
<circle cx="477.5" cy="208.9" r="1.72" fill="#daf0f5" stroke="#a8bcc8" stroke-width="0.95"/>
<circle cx="450.7" cy="214.7" r="1.72" fill="#d4f2f6" stroke="#ea8cb2" stroke-width="0.95"/>
<circle cx="466.8" cy="214.7" r="1.72" fill="#daf0f5" stroke="#a8bcc8" stroke-width="0.95"/>
<circle cx="456.5" cy="219.2" r="1.72" fill="#d4f2f6" stroke="#ea8cb2" stroke-width="0.95"/>
<circle cx="465.4" cy="216.5" r="1.72" fill="#d4f2f6" stroke="#ea8cb2" stroke-width="0.95"/>
<circle cx="475.7" cy="217.9" r="1.72" fill="#d4f2f6" stroke="#ea8cb2" stroke-width="0.95"/>
<circle cx="454.3" cy="205.2" r="1.72" fill="#daf0f5" stroke="#a8bcc8" stroke-width="0.95"/>
<circle cx="457.5" cy="205.7" r="1.72" fill="#d4f2f6" stroke="#ea8cb2" stroke-width="0.95"/>
<circle cx="466.1" cy="202.5" r="1.72" fill="#daf0f5" stroke="#a8bcc8" stroke-width="0.95"/>
<circle cx="473.0" cy="202.5" r="1.72" fill="#daf0f5" stroke="#a8bcc8" stroke-width="0.95"/>
<circle cx="451.6" cy="208.9" r="1.72" fill="#daf0f5" stroke="#a8bcc8" stroke-width="0.95"/>
<circle cx="465.0" cy="209.5" r="1.72" fill="#d4f2f6" stroke="#ea8cb2" stroke-width="0.95"/>
<circle cx="477.9" cy="211.1" r="1.72" fill="#d4f2f6" stroke="#ea8cb2" stroke-width="0.95"/>
<circle cx="460.7" cy="217.5" r="1.72" fill="#daf0f5" stroke="#a8bcc8" stroke-width="0.95"/>
<circle cx="485.4" cy="217.5" r="1.72" fill="#d4f2f6" stroke="#ea8cb2" stroke-width="0.95"/>
<circle cx="492.9" cy="218.0" r="1.72" fill="#d4f2f6" stroke="#ea8cb2" stroke-width="0.95"/>
<circle cx="487.5" cy="222.9" r="1.72" fill="#daf0f5" stroke="#a8bcc8" stroke-width="0.95"/>
<line x1="318.9" y1="165.58" x2="496.7" y2="213.76" stroke="#d04a4a" stroke-width="1.0"/>
<rect x="309.3" y="35.4" width="65.2" height="80.6" rx="1.5" fill="#fff" stroke="#b0b0b0" stroke-width="0.9"/>
<text x="320.3" y="44.50" font-size="5.5" font-weight="bold" fill="#222" stroke="#222" stroke-width="0.2">Missense (VUS)</text>
<text x="320.3" y="55.50" font-size="5.5" font-weight="bold" fill="#222" stroke="#222" stroke-width="0.2">Not mutated</text>
<text x="320.3" y="66.50" font-size="5.5" font-weight="bold" fill="#222" stroke="#222" stroke-width="0.2">Amplification</text>
<text x="320.3" y="77.60" font-size="5.5" font-weight="bold" fill="#222" stroke="#222" stroke-width="0.2">Gain</text>
<text x="320.3" y="88.70" font-size="5.5" font-weight="bold" fill="#222" stroke="#222" stroke-width="0.2">Diploid</text>
<text x="320.3" y="99.70" font-size="5.5" font-weight="bold" fill="#222" stroke="#222" stroke-width="0.2">Shallow Deletion</text>
<text x="320.3" y="110.80" font-size="5.5" font-weight="bold" fill="#222" stroke="#222" stroke-width="0.2">Deep Deletion</text>
<circle cx="315" cy="42.6" r="1" fill="#30b020"/>
<circle cx="315" cy="53.6" r="1" fill="#b8e0ee"/>
<circle cx="315" cy="64.6" r="1.3" fill="#fff" stroke="#d82030" stroke-width="0.9"/>
<circle cx="315" cy="75.7" r="1.3" fill="#fff" stroke="#f0a8c0" stroke-width="0.9"/>
<circle cx="315" cy="86.8" r="1.4" fill="#d4d4d4"/>
<circle cx="315" cy="97.8" r="1.3" fill="#fff" stroke="#30c8c0" stroke-width="0.9"/>
<circle cx="315" cy="108.9" r="1.3" fill="#fff" stroke="#2020d0" stroke-width="0.9"/>
<text x="476.1" y="43" font-size="7.3" font-weight="bold" fill="#111" stroke="#111" stroke-width="0.2">n = 552</text>
<text x="476.1" y="53.3" font-size="6.1" font-weight="bold" fill="#222" stroke="#222" stroke-width="0.2">Spearman: -0.52</text>
<text x="479.5" y="64.8" font-size="6.1" font-weight="bold" fill="#222" stroke="#222" stroke-width="0.2">(p = 5.14e-40)</text>
<text x="476.9" y="79" font-size="6.1" font-weight="bold" fill="#222" stroke="#222" stroke-width="0.2">Pearson: -0.43</text>
<text x="479.8" y="89.8" font-size="6.1" font-weight="bold" fill="#222" stroke="#222" stroke-width="0.2">(p = 2.20e-26)</text>
<line x1="467.5" y1="99.8" x2="473" y2="99.8" stroke="#dd5544" stroke-width="1.3"/>
<text x="481.4" y="102" font-size="6.1" font-weight="bold" fill="#222" stroke="#222" stroke-width="0.2">y = -1734.54x + 2240.33</text>
<text x="480.2" y="112.4" font-size="6.1" font-weight="bold" fill="#222" stroke="#222" stroke-width="0.2">R<tspan font-size="4" dy="-2.2">2</tspan><tspan dy="2.2"> = 0.19</tspan></text>
</svg></body></html>
